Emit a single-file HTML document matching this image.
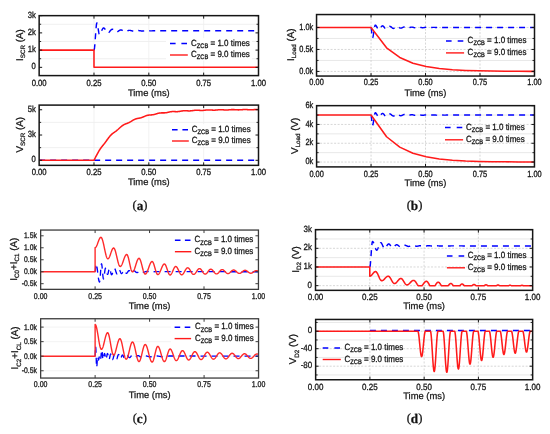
<!DOCTYPE html>
<html><head><meta charset="utf-8"><title>Figure</title><style>html,body{margin:0;padding:0;background:#fff;}svg{display:block;}</style></head><body>
<svg width="550" height="434" viewBox="0 0 550 434" font-family='"Liberation Sans", Arial, sans-serif' fill="#161616"><style>text{stroke:#161616;stroke-width:0.25px;text-rendering:geometricPrecision}</style>
<rect width="550" height="434" fill="#fff"/>
<line x1="39.15" y1="58.72" x2="258.5" y2="58.72" stroke="#ececec" stroke-width="0.8"/>
<line x1="39.15" y1="41.49" x2="258.5" y2="41.49" stroke="#ececec" stroke-width="0.8"/>
<line x1="39.15" y1="24.26" x2="258.5" y2="24.26" stroke="#ececec" stroke-width="0.8"/>
<line x1="93.99" y1="15.65" x2="93.99" y2="75.6" stroke="#efefef" stroke-width="0.8"/>
<line x1="148.82" y1="15.65" x2="148.82" y2="75.6" stroke="#efefef" stroke-width="0.8"/>
<line x1="203.66" y1="15.65" x2="203.66" y2="75.6" stroke="#efefef" stroke-width="0.8"/>
<g>
<path d="M93.99 50.1 L94.25 49.55 L94.52 47.94 L94.78 45.41 L95.05 42.15 L95.31 38.44 L95.58 34.57 L95.84 30.85 L96.11 27.59 L96.37 25.06 L96.64 23.45 L96.9 22.9 L97.16 23.19 L97.42 24.02 L97.68 25.31 L97.94 26.94 L98.2 28.75 L98.46 30.56 L98.72 32.19 L98.98 33.48 L99.24 34.31 L99.5 34.6 L99.75 34.47 L100 34.22 L100.25 33.87 L100.5 33.44 L100.75 32.92 L101 32.36 L101.25 31.77 L101.5 31.16 L101.75 30.56 L102 30 L102.25 29.47 L102.5 29.02 L102.75 28.63 L103 28.33 L103.25 28.12 L103.5 28.01 L103.75 28 L104 28.07 L104.25 28.24 L104.5 28.48 L104.75 28.79 L105 29.16 L105.25 29.57 L105.5 30 L105.75 30.45 L106 30.89 L106.25 31.31 L106.5 31.7 L106.75 32.05 L107 32.34 L107.25 32.58 L107.5 32.74 L107.75 32.84 L108 32.87 L108.25 32.82 L108.5 32.71 L108.75 32.55 L109 32.33 L109.25 32.06 L109.5 31.77 L109.75 31.45 L110 31.13 L110.25 30.8 L110.5 30.49 L110.75 30.19 L111 29.93 L111.25 29.7 L111.5 29.52 L111.75 29.39 L112 29.31 L112.25 29.28 L112.5 29.3 L112.75 29.37 L113 29.49 L113.25 29.64 L113.5 29.83 L113.75 30.04 L114 30.27 L114.25 30.51 L114.5 30.75 L114.75 30.99 L115 31.21 L115.25 31.4 L115.5 31.58 L115.75 31.71 L116 31.82 L116.25 31.89 L116.5 31.92 L116.75 31.91 L117 31.86 L117.25 31.78 L117.5 31.68 L117.75 31.54 L118 31.39 L118.25 31.22 L118.5 31.05 L118.75 30.87 L119 30.7 L119.25 30.53 L119.5 30.38 L119.75 30.25 L120 30.15 L120.25 30.06 L120.5 30.01 L120.75 29.98 L121 29.98 L121.25 30.01 L121.5 30.06 L121.75 30.14 L122 30.23 L122.25 30.34 L122.5 30.46 L122.75 30.59 L123 30.72 L123.25 30.85 L123.5 30.97 L123.75 31.09 L124 31.18 L124.25 31.27 L124.5 31.33 L124.75 31.38 L125 31.4 L125.25 31.4 L125.5 31.39 L125.75 31.35 L126 31.3 L126.25 31.23 L126.5 31.15 L126.75 31.07 L127 30.97 L127.25 30.88 L127.5 30.78 L127.75 30.69 L128 30.61 L128.25 30.53 L128.5 30.47 L128.75 30.42 L129 30.38 L129.25 30.36 L129.5 30.36 L129.75 30.36 L130 30.39 L130.25 30.42 L130.5 30.47 L130.75 30.53 L131 30.59 L131.25 30.66 L131.5 30.73 L131.75 30.8 L132 30.87 L132.25 30.93 L132.5 30.99 L132.75 31.04 L133 31.07 L133.25 31.1 L133.5 31.12 L133.75 31.13 L134 31.12 L134.25 31.11 L134.5 31.08 L134.75 31.05 L135 31.01 L135.25 30.96 L135.5 30.91 L135.75 30.86 L136 30.81 L136.25 30.76 L136.5 30.71 L136.75 30.67 L137 30.63 L137.25 30.6 L137.5 30.58 L137.75 30.57 L138 30.56 L138.25 30.56 L138.5 30.57 L138.75 30.59 L139 30.61 L139.25 30.64 L139.5 30.67 L139.75 30.71 L140 30.75 L140.25 30.78 L140.5 30.82 L140.75 30.86 L141 30.89 L141.25 30.92 L141.5 30.94 L141.75 30.96 L142 30.97 L142.25 30.98 L142.5 30.98 L142.75 30.97 L143 30.96 L143.25 30.94 L143.5 30.92 L143.75 30.9 L144 30.87 L144.25 30.84 L144.5 30.82 L144.75 30.79 L145 30.76 L145.25 30.74 L145.5 30.72 L145.75 30.7 L146 30.69 L146.25 30.68 L146.5 30.67 L146.75 30.67 L147 30.67 L147.25 30.68 L147.5 30.69 L147.75 30.71 L148 30.72 L148.25 30.74 L148.5 30.76 L148.75 30.78 L149 30.8 L149.25 30.82 L149.5 30.84 L149.75 30.86 L150 30.87 L150.25 30.88 L150.5 30.89 L150.75 30.89 L151 30.9 L151.25 30.89 L151.5 30.89 L151.75 30.88 L152 30.87 L152.25 30.86 L152.5 30.84 L152.75 30.83 L153 30.82 L153.25 30.8 L153.5 30.79 L153.75 30.77 L154 30.76 L154.25 30.75 L154.5 30.74 L154.75 30.73 L155 30.73 L155.25 30.73 L155.5 30.73 L155.75 30.73 L156 30.74 L156.25 30.75 L156.5 30.76 L156.75 30.76 L157 30.78 L157.25 30.79 L157.5 30.8 L157.75 30.81 L158 30.82 L158.25 30.83 L158.5 30.84 L158.75 30.84 L159 30.85 L159.25 30.85 L159.5 30.85 L159.75 30.85 L160 30.85 L160.25 30.85 L160.5 30.84 L160.75 30.83 L161 30.83 L161.25 30.82 L161.5 30.81 L161.75 30.8 L162 30.8 L162.25 30.79 L162.5 30.78 L162.75 30.77 L163 30.77 L163.25 30.77 L163.5 30.76 L163.75 30.76 L164 30.76 L164.25 30.76 L164.5 30.77 L164.75 30.77 L165 30.77 L165.25 30.78 L165.5 30.78 L165.75 30.79 L166 30.8 L166.25 30.8 L166.5 30.81 L166.75 30.81 L167 30.82 L167.25 30.82 L167.5 30.82 L167.75 30.83 L168 30.83 L168.25 30.83 L168.5 30.83 L168.75 30.83 L169 30.82 L169.25 30.82 L169.5 30.82 L169.75 30.81 L170 30.81 L170.25 30.8 L170.5 30.8 L170.75 30.79 L171 30.79 L171.25 30.79 L171.5 30.78 L171.75 30.78 L172 30.78 L172.25 30.78 L172.5 30.78 L172.75 30.78 L173 30.78 L173.25 30.78 L173.5 30.78 L173.75 30.79 L174 30.79 L174.25 30.79 L174.5 30.8 L174.75 30.8 L175 30.8 L175.25 30.81 L175.5 30.81 L175.75 30.81 L176 30.81 L176.25 30.81 L176.5 30.81 L176.75 30.82 L177 30.81 L177.25 30.81 L177.5 30.81 L177.75 30.81 L178 30.81 L178.25 30.81 L178.5 30.81 L178.75 30.8 L179 30.8 L179.25 30.8 L179.5 30.8 L179.75 30.79 L180 30.79 L180.25 30.79 L180.5 30.79 L180.75 30.79 L181 30.79 L181.25 30.79 L181.5 30.79 L181.75 30.79 L182 30.79 L182.25 30.79 L182.5 30.79 L182.75 30.8 L183 30.8 L183.25 30.8 L183.5 30.8 L183.75 30.8 L184 30.8 L184.25 30.81 L184.5 30.81 L184.75 30.81 L185 30.81 L185.25 30.81 L185.5 30.81 L185.75 30.81 L186 30.81 L186.25 30.81 L186.5 30.81 L186.75 30.8 L187 30.8 L187.25 30.8 L187.5 30.8 L187.75 30.8 L188 30.8 L188.25 30.8 L188.5 30.8 L188.75 30.8 L189 30.79 L189.25 30.79 L189.5 30.79 L189.75 30.79 L190 30.79 L190.25 30.79 L190.5 30.8 L190.75 30.8 L191 30.8 L191.25 30.8 L191.5 30.8 L191.75 30.8 L192 30.8 L192.25 30.8 L192.5 30.8 L192.75 30.8 L193 30.8 L193.25 30.8 L193.5 30.8 L193.75 30.8 L194 30.8 L194.25 30.8 L194.5 30.8 L194.75 30.8 L195 30.8 L195.25 30.8 L195.5 30.8 L195.75 30.8 L196 30.8 L196.25 30.8 L196.5 30.8 L196.75 30.8 L197 30.8 L197.25 30.8 L197.5 30.8 L197.75 30.8 L198 30.8 L198.25 30.8 L198.5 30.8 L198.75 30.8 L199 30.8 L199.25 30.8 L199.5 30.8 L199.75 30.8 L200 30.8 L200.25 30.8 L200.5 30.8 L200.75 30.8 L201 30.8 L201.25 30.8 L201.5 30.8 L201.75 30.8 L202 30.8 L202.25 30.8 L202.5 30.8 L202.75 30.8 L203 30.8 L203.25 30.8 L203.5 30.8 L203.75 30.8 L204 30.8 L204.25 30.8 L204.5 30.8 L204.75 30.8 L205 30.8 L205.25 30.8 L205.5 30.8 L205.75 30.8 L206 30.8 L206.25 30.8 L206.5 30.8 L206.75 30.8 L207 30.8 L207.25 30.8 L207.5 30.8 L207.75 30.8 L208 30.8 L208.25 30.8 L208.5 30.8 L208.75 30.8 L209 30.8 L209.25 30.8 L209.5 30.8 L209.75 30.8 L210 30.8 L210.25 30.8 L210.5 30.8 L210.75 30.8 L211 30.8 L211.25 30.8 L211.5 30.8 L211.75 30.8 L212 30.8 L212.25 30.8 L212.5 30.8 L212.75 30.8 L213 30.8 L213.25 30.8 L213.5 30.8 L213.75 30.8 L214 30.8 L214.25 30.8 L214.5 30.8 L214.75 30.8 L215 30.8 L215.25 30.8 L215.5 30.8 L215.75 30.8 L216 30.8 L216.25 30.8 L216.5 30.8 L216.75 30.8 L217 30.8 L217.25 30.8 L217.5 30.8 L217.75 30.8 L218 30.8 L218.25 30.8 L218.5 30.8 L218.75 30.8 L219 30.8 L219.25 30.8 L219.5 30.8 L219.75 30.8 L220 30.8 L220.25 30.8 L220.5 30.8 L220.75 30.8 L221 30.8 L221.25 30.8 L221.5 30.8 L221.75 30.8 L222 30.8 L222.25 30.8 L222.5 30.8 L222.75 30.8 L223 30.8 L223.25 30.8 L223.5 30.8 L223.75 30.8 L224 30.8 L224.25 30.8 L224.5 30.8 L224.75 30.8 L225 30.8 L225.25 30.8 L225.5 30.8 L225.75 30.8 L226 30.8 L226.25 30.8 L226.5 30.8 L226.75 30.8 L227 30.8 L227.25 30.8 L227.5 30.8 L227.75 30.8 L228 30.8 L228.25 30.8 L228.5 30.8 L228.75 30.8 L229 30.8 L229.25 30.8 L229.5 30.8 L229.75 30.8 L230 30.8 L230.25 30.8 L230.5 30.8 L230.75 30.8 L231 30.8 L231.25 30.8 L231.5 30.8 L231.75 30.8 L232 30.8 L232.25 30.8 L232.5 30.8 L232.75 30.8 L233 30.8 L233.25 30.8 L233.5 30.8 L233.75 30.8 L234 30.8 L234.25 30.8 L234.5 30.8 L234.75 30.8 L235 30.8 L235.25 30.8 L235.5 30.8 L235.75 30.8 L236 30.8 L236.25 30.8 L236.5 30.8 L236.75 30.8 L237 30.8 L237.25 30.8 L237.5 30.8 L237.75 30.8 L238 30.8 L238.25 30.8 L238.5 30.8 L238.75 30.8 L239 30.8 L239.25 30.8 L239.5 30.8 L239.75 30.8 L240 30.8 L240.25 30.8 L240.5 30.8 L240.75 30.8 L241 30.8 L241.25 30.8 L241.5 30.8 L241.75 30.8 L242 30.8 L242.25 30.8 L242.5 30.8 L242.75 30.8 L243 30.8 L243.25 30.8 L243.5 30.8 L243.75 30.8 L244 30.8 L244.25 30.8 L244.5 30.8 L244.75 30.8 L245 30.8 L245.25 30.8 L245.5 30.8 L245.75 30.8 L246 30.8 L246.25 30.8 L246.5 30.8 L246.75 30.8 L247 30.8 L247.25 30.8 L247.5 30.8 L247.75 30.8 L248 30.8 L248.25 30.8 L248.5 30.8 L248.75 30.8 L249 30.8 L249.25 30.8 L249.5 30.8 L249.75 30.8 L250 30.8 L250.25 30.8 L250.5 30.8 L250.75 30.8 L251 30.8 L251.25 30.8 L251.5 30.8 L251.75 30.8 L252 30.8 L252.25 30.8 L252.5 30.8 L252.75 30.8 L253 30.8 L253.25 30.8 L253.5 30.8 L253.75 30.8 L254 30.8 L254.25 30.8 L254.5 30.8 L254.75 30.8 L255 30.8 L255.25 30.8 L255.5 30.8 L255.75 30.8 L256 30.8 L256.25 30.8 L256.5 30.8 L256.75 30.8 L257 30.8 L257.25 30.8 L257.5 30.8 L257.75 30.8 L258 30.8 L258.25 30.8 L258.5 30.8 L258.5 30.8" fill="none" stroke="#0000ff" stroke-width="1.45" stroke-dasharray="6 5" stroke-linejoin="round"/>
<path d="M39.15 50.1 L93.99 50.1 L93.99 67.33 L258.5 67.33" fill="none" stroke="#ff1a1a" stroke-width="1.55" stroke-linejoin="round"/>
</g>
<rect x="166" y="38.1" width="86" height="22.4" fill="#fff"/>
<path d="M170 43.6h5.6M181.4 43.6h5.6" stroke="#0000ff" stroke-width="1.5"/>
<line x1="170" y1="55" x2="187.8" y2="55" stroke="#ff1a1a" stroke-width="1.4"/>
<text transform="translate(191 45.7) scale(1 1.12)" font-size="8">C<tspan font-size="5.76" dy="2">ZCB</tspan><tspan dy="-2"> = 1.0 times</tspan></text>
<text transform="translate(191 57.1) scale(1 1.12)" font-size="8">C<tspan font-size="5.76" dy="2">ZCB</tspan><tspan dy="-2"> = 9.0 times</tspan></text>
<rect x="39.15" y="15.65" width="219.35" height="59.95" fill="none" stroke="#151515" stroke-width="1.5"/>
<path d="M39.15 67.33h3M258.5 67.33h-3" stroke="#151515" stroke-width="1"/>
<path d="M39.15 50.1h3M258.5 50.1h-3" stroke="#151515" stroke-width="1"/>
<path d="M39.15 32.88h3M258.5 32.88h-3" stroke="#151515" stroke-width="1"/>
<path d="M39.15 15.65h3M258.5 15.65h-3" stroke="#151515" stroke-width="1"/>
<path d="M39.15 58.72h2M258.5 58.72h-2" stroke="#151515" stroke-width="0.9"/>
<path d="M39.15 41.49h2M258.5 41.49h-2" stroke="#151515" stroke-width="0.9"/>
<path d="M39.15 24.26h2M258.5 24.26h-2" stroke="#151515" stroke-width="0.9"/>
<path d="M93.99 75.6v-3M93.99 15.65v3" stroke="#151515" stroke-width="1"/>
<path d="M148.82 75.6v-3M148.82 15.65v3" stroke="#151515" stroke-width="1"/>
<path d="M203.66 75.6v-3M203.66 15.65v3" stroke="#151515" stroke-width="1"/>
<text transform="translate(35.85 69.43) scale(1 1.16)" text-anchor="end" font-size="7.7">0</text>
<text transform="translate(35.85 52.2) scale(1 1.16)" text-anchor="end" font-size="7.7">1k</text>
<text transform="translate(35.85 34.98) scale(1 1.16)" text-anchor="end" font-size="7.7">2k</text>
<text transform="translate(35.85 17.75) scale(1 1.16)" text-anchor="end" font-size="7.7">3k</text>
<text transform="translate(39.15 85.55) scale(1 1.16)" text-anchor="middle" font-size="7.7">0.00</text>
<text transform="translate(93.99 85.55) scale(1 1.16)" text-anchor="middle" font-size="7.7">0.25</text>
<text transform="translate(148.82 85.55) scale(1 1.16)" text-anchor="middle" font-size="7.7">0.50</text>
<text transform="translate(203.66 85.55) scale(1 1.16)" text-anchor="middle" font-size="7.7">0.75</text>
<text transform="translate(258.5 85.55) scale(1 1.16)" text-anchor="middle" font-size="7.7">1.00</text>
<text x="148.82" y="96.4" text-anchor="middle" font-size="9.4">Time (ms)</text>
<text transform="translate(22.5 45.12) rotate(-90)" text-anchor="middle" font-size="9.8">I<tspan font-size="6.27" dy="2.2">SCR</tspan><tspan dy="-2.2"> (A)</tspan></text>
<line x1="39.15" y1="147.66" x2="258.5" y2="147.66" stroke="#ececec" stroke-width="0.8"/>
<line x1="39.15" y1="122.39" x2="258.5" y2="122.39" stroke="#ececec" stroke-width="0.8"/>
<line x1="93.99" y1="105.1" x2="93.99" y2="165.35" stroke="#efefef" stroke-width="0.8"/>
<line x1="148.82" y1="105.1" x2="148.82" y2="165.35" stroke="#efefef" stroke-width="0.8"/>
<line x1="203.66" y1="105.1" x2="203.66" y2="165.35" stroke="#efefef" stroke-width="0.8"/>
<g>
<path d="M39.15 160.3 L258.5 160.3" fill="none" stroke="#0000ff" stroke-width="1.45" stroke-dasharray="6 5" stroke-linejoin="round"/>
<path d="M39.15 160.3 L39.42 160.3 L39.7 160.3 L39.97 160.3 L40.25 160.3 L40.52 160.3 L40.8 160.3 L41.07 160.3 L41.35 160.3 L41.62 160.3 L41.9 160.3 L42.17 160.3 L42.44 160.3 L42.72 160.3 L42.99 160.3 L43.27 160.3 L43.54 160.3 L43.82 160.3 L44.09 160.3 L44.37 160.3 L44.64 160.3 L44.92 160.3 L45.19 160.3 L45.46 160.3 L45.74 160.3 L46.01 160.3 L46.29 160.3 L46.56 160.3 L46.84 160.3 L47.11 160.3 L47.39 160.3 L47.66 160.3 L47.93 160.3 L48.21 160.3 L48.48 160.3 L48.76 160.3 L49.03 160.3 L49.31 160.3 L49.58 160.3 L49.86 160.3 L50.13 160.3 L50.41 160.3 L50.68 160.3 L50.95 160.3 L51.23 160.3 L51.5 160.3 L51.78 160.3 L52.05 160.3 L52.33 160.3 L52.6 160.3 L52.88 160.3 L53.15 160.3 L53.43 160.3 L53.7 160.3 L53.97 160.3 L54.25 160.3 L54.52 160.3 L54.8 160.3 L55.07 160.3 L55.35 160.3 L55.62 160.3 L55.9 160.3 L56.17 160.3 L56.45 160.3 L56.72 160.3 L56.99 160.3 L57.27 160.3 L57.54 160.3 L57.82 160.3 L58.09 160.3 L58.37 160.3 L58.64 160.3 L58.92 160.3 L59.19 160.3 L59.47 160.3 L59.74 160.3 L60.01 160.3 L60.29 160.3 L60.56 160.3 L60.84 160.3 L61.11 160.3 L61.39 160.3 L61.66 160.3 L61.94 160.3 L62.21 160.3 L62.49 160.3 L62.76 160.3 L63.03 160.3 L63.31 160.3 L63.58 160.3 L63.86 160.3 L64.13 160.3 L64.41 160.3 L64.68 160.3 L64.96 160.3 L65.23 160.3 L65.5 160.3 L65.78 160.3 L66.05 160.3 L66.33 160.3 L66.6 160.3 L66.88 160.3 L67.15 160.3 L67.43 160.3 L67.7 160.3 L67.98 160.3 L68.25 160.3 L68.52 160.3 L68.8 160.3 L69.07 160.3 L69.35 160.3 L69.62 160.3 L69.9 160.3 L70.17 160.3 L70.45 160.3 L70.72 160.3 L71 160.3 L71.27 160.3 L71.54 160.3 L71.82 160.3 L72.09 160.3 L72.37 160.3 L72.64 160.3 L72.92 160.3 L73.19 160.3 L73.47 160.3 L73.74 160.3 L74.02 160.3 L74.29 160.3 L74.56 160.3 L74.84 160.3 L75.11 160.3 L75.39 160.3 L75.66 160.3 L75.94 160.3 L76.21 160.3 L76.49 160.3 L76.76 160.3 L77.04 160.3 L77.31 160.3 L77.58 160.3 L77.86 160.3 L78.13 160.3 L78.41 160.3 L78.68 160.3 L78.96 160.3 L79.23 160.3 L79.51 160.3 L79.78 160.3 L80.06 160.3 L80.33 160.3 L80.6 160.3 L80.88 160.3 L81.15 160.3 L81.43 160.3 L81.7 160.3 L81.98 160.3 L82.25 160.3 L82.53 160.3 L82.8 160.3 L83.07 160.3 L83.35 160.3 L83.62 160.3 L83.9 160.3 L84.17 160.3 L84.45 160.3 L84.72 160.3 L85 160.3 L85.27 160.3 L85.55 160.3 L85.82 160.3 L86.09 160.3 L86.37 160.3 L86.64 160.3 L86.92 160.3 L87.19 160.3 L87.47 160.3 L87.74 160.3 L88.02 160.3 L88.29 160.3 L88.57 160.3 L88.84 160.3 L89.11 160.3 L89.39 160.3 L89.66 160.3 L89.94 160.3 L90.21 160.3 L90.49 160.3 L90.76 160.3 L91.04 160.3 L91.31 160.3 L91.59 160.3 L91.86 160.3 L92.13 160.3 L92.41 160.3 L92.68 160.3 L92.96 160.3 L93.23 160.3 L93.51 160.3 L93.78 160.3 L94.06 160.16 L94.33 159.62 L94.61 159.08 L94.88 158.55 L95.15 158.02 L95.43 157.49 L95.7 156.96 L95.98 156.43 L96.25 155.9 L96.53 155.38 L96.8 154.86 L97.08 154.34 L97.35 153.83 L97.63 153.33 L97.9 152.83 L98.17 152.33 L98.45 151.85 L98.72 151.37 L99 150.91 L99.27 150.45 L99.55 150.01 L99.82 149.57 L100.1 149.15 L100.37 148.74 L100.64 148.35 L100.92 147.96 L101.19 147.58 L101.47 147.22 L101.74 146.86 L102.02 146.51 L102.29 146.17 L102.57 145.83 L102.84 145.5 L103.12 145.16 L103.39 144.82 L103.66 144.48 L103.94 144.13 L104.21 143.78 L104.49 143.43 L104.76 143.07 L105.04 142.71 L105.31 142.34 L105.59 141.97 L105.86 141.6 L106.14 141.22 L106.41 140.84 L106.68 140.46 L106.96 140.08 L107.23 139.69 L107.51 139.31 L107.78 138.93 L108.06 138.56 L108.33 138.18 L108.61 137.82 L108.88 137.46 L109.16 137.11 L109.43 136.77 L109.7 136.43 L109.98 136.11 L110.25 135.8 L110.53 135.5 L110.8 135.2 L111.08 134.92 L111.35 134.66 L111.63 134.4 L111.9 134.15 L112.18 133.91 L112.45 133.68 L112.72 133.46 L113 133.25 L113.27 133.04 L113.55 132.84 L113.82 132.64 L114.1 132.45 L114.37 132.25 L114.65 132.06 L114.92 131.87 L115.19 131.67 L115.47 131.48 L115.74 131.28 L116.02 131.08 L116.29 130.87 L116.57 130.66 L116.84 130.44 L117.12 130.22 L117.39 129.99 L117.67 129.75 L117.94 129.52 L118.21 129.27 L118.49 129.03 L118.76 128.78 L119.04 128.53 L119.31 128.28 L119.59 128.02 L119.86 127.77 L120.14 127.52 L120.41 127.28 L120.69 127.03 L120.96 126.79 L121.23 126.56 L121.51 126.34 L121.78 126.12 L122.06 125.91 L122.33 125.7 L122.61 125.51 L122.88 125.33 L123.16 125.15 L123.43 124.98 L123.71 124.83 L123.98 124.68 L124.25 124.54 L124.53 124.41 L124.8 124.28 L125.08 124.16 L125.35 124.05 L125.63 123.94 L125.9 123.83 L126.18 123.73 L126.45 123.62 L126.73 123.52 L127 123.42 L127.27 123.31 L127.55 123.2 L127.82 123.09 L128.1 122.97 L128.37 122.85 L128.65 122.73 L128.92 122.6 L129.2 122.46 L129.47 122.32 L129.75 122.18 L130.02 122.02 L130.29 121.87 L130.57 121.71 L130.84 121.54 L131.12 121.37 L131.39 121.21 L131.67 121.03 L131.94 120.86 L132.22 120.69 L132.49 120.53 L132.76 120.36 L133.04 120.2 L133.31 120.04 L133.59 119.89 L133.86 119.74 L134.14 119.6 L134.41 119.46 L134.69 119.34 L134.96 119.22 L135.24 119.11 L135.51 119 L135.78 118.91 L136.06 118.82 L136.33 118.74 L136.61 118.67 L136.88 118.6 L137.16 118.53 L137.43 118.48 L137.71 118.42 L137.98 118.37 L138.26 118.32 L138.53 118.27 L138.8 118.22 L139.08 118.17 L139.35 118.12 L139.63 118.06 L139.9 118.01 L140.18 117.95 L140.45 117.88 L140.73 117.81 L141 117.73 L141.28 117.65 L141.55 117.56 L141.82 117.47 L142.1 117.37 L142.37 117.27 L142.65 117.16 L142.92 117.05 L143.2 116.94 L143.47 116.82 L143.75 116.71 L144.02 116.59 L144.3 116.47 L144.57 116.35 L144.84 116.23 L145.12 116.12 L145.39 116.01 L145.67 115.9 L145.94 115.8 L146.22 115.7 L146.49 115.61 L146.77 115.52 L147.04 115.44 L147.32 115.37 L147.59 115.31 L147.86 115.25 L148.14 115.2 L148.41 115.15 L148.69 115.11 L148.96 115.08 L149.24 115.05 L149.51 115.02 L149.79 115 L150.06 114.98 L150.33 114.97 L150.61 114.95 L150.88 114.93 L151.16 114.91 L151.43 114.89 L151.71 114.87 L151.98 114.85 L152.26 114.82 L152.53 114.79 L152.81 114.75 L153.08 114.71 L153.35 114.66 L153.63 114.61 L153.9 114.55 L154.18 114.49 L154.45 114.42 L154.73 114.35 L155 114.27 L155.28 114.19 L155.55 114.11 L155.83 114.02 L156.1 113.94 L156.37 113.85 L156.65 113.76 L156.92 113.68 L157.2 113.6 L157.47 113.51 L157.75 113.44 L158.02 113.36 L158.3 113.29 L158.57 113.23 L158.85 113.17 L159.12 113.12 L159.39 113.07 L159.67 113.03 L159.94 112.99 L160.22 112.96 L160.49 112.94 L160.77 112.92 L161.04 112.9 L161.32 112.89 L161.59 112.89 L161.87 112.89 L162.14 112.88 L162.41 112.89 L162.69 112.89 L162.96 112.89 L163.24 112.89 L163.51 112.89 L163.79 112.89 L164.06 112.88 L164.34 112.87 L164.61 112.86 L164.89 112.85 L165.16 112.82 L165.43 112.8 L165.71 112.77 L165.98 112.73 L166.26 112.69 L166.53 112.65 L166.81 112.6 L167.08 112.54 L167.36 112.48 L167.63 112.42 L167.9 112.36 L168.18 112.3 L168.45 112.23 L168.73 112.17 L169 112.1 L169.28 112.04 L169.55 111.98 L169.83 111.92 L170.1 111.86 L170.38 111.81 L170.65 111.76 L170.92 111.72 L171.2 111.68 L171.47 111.65 L171.75 111.62 L172.02 111.6 L172.3 111.58 L172.57 111.57 L172.85 111.56 L173.12 111.56 L173.4 111.56 L173.67 111.57 L173.94 111.57 L174.22 111.58 L174.49 111.59 L174.77 111.61 L175.04 111.62 L175.32 111.63 L175.59 111.64 L175.87 111.65 L176.14 111.66 L176.42 111.66 L176.69 111.66 L176.96 111.66 L177.24 111.65 L177.51 111.64 L177.79 111.62 L178.06 111.6 L178.34 111.57 L178.61 111.54 L178.89 111.51 L179.16 111.47 L179.44 111.43 L179.71 111.38 L179.98 111.33 L180.26 111.28 L180.53 111.23 L180.81 111.18 L181.08 111.13 L181.36 111.08 L181.63 111.03 L181.91 110.99 L182.18 110.94 L182.46 110.9 L182.73 110.86 L183 110.83 L183.28 110.8 L183.55 110.78 L183.83 110.76 L184.1 110.74 L184.38 110.74 L184.65 110.73 L184.93 110.73 L185.2 110.73 L185.47 110.74 L185.75 110.75 L186.02 110.76 L186.3 110.78 L186.57 110.79 L186.85 110.81 L187.12 110.83 L187.4 110.85 L187.67 110.86 L187.95 110.88 L188.22 110.89 L188.49 110.9 L188.77 110.91 L189.04 110.91 L189.32 110.91 L189.59 110.91 L189.87 110.9 L190.14 110.89 L190.42 110.87 L190.69 110.85 L190.97 110.83 L191.24 110.8 L191.51 110.77 L191.79 110.73 L192.06 110.69 L192.34 110.66 L192.61 110.61 L192.89 110.57 L193.16 110.53 L193.44 110.49 L193.71 110.45 L193.99 110.41 L194.26 110.38 L194.53 110.34 L194.81 110.31 L195.08 110.29 L195.36 110.27 L195.63 110.25 L195.91 110.23 L196.18 110.22 L196.46 110.22 L196.73 110.21 L197.01 110.22 L197.28 110.22 L197.55 110.23 L197.83 110.24 L198.1 110.26 L198.38 110.28 L198.65 110.3 L198.93 110.32 L199.2 110.34 L199.48 110.36 L199.75 110.38 L200.02 110.39 L200.3 110.41 L200.57 110.43 L200.85 110.44 L201.12 110.45 L201.4 110.45 L201.67 110.45 L201.95 110.45 L202.22 110.44 L202.5 110.43 L202.77 110.42 L203.04 110.4 L203.32 110.38 L203.59 110.35 L203.87 110.33 L204.14 110.3 L204.42 110.27 L204.69 110.23 L204.97 110.2 L205.24 110.16 L205.52 110.13 L205.79 110.1 L206.06 110.06 L206.34 110.03 L206.61 110.01 L206.89 109.98 L207.16 109.96 L207.44 109.94 L207.71 109.92 L207.99 109.91 L208.26 109.9 L208.54 109.9 L208.81 109.9 L209.08 109.9 L209.36 109.91 L209.63 109.92 L209.91 109.93 L210.18 109.95 L210.46 109.97 L210.73 109.99 L211.01 110.01 L211.28 110.03 L211.56 110.05 L211.83 110.07 L212.1 110.09 L212.38 110.11 L212.65 110.12 L212.93 110.14 L213.2 110.15 L213.48 110.16 L213.75 110.16 L214.03 110.16 L214.3 110.16 L214.58 110.15 L214.85 110.15 L215.12 110.13 L215.4 110.12 L215.67 110.1 L215.95 110.07 L216.22 110.05 L216.5 110.02 L216.77 110 L217.05 109.97 L217.32 109.94 L217.59 109.91 L217.87 109.88 L218.14 109.85 L218.42 109.83 L218.69 109.8 L218.97 109.78 L219.24 109.76 L219.52 109.74 L219.79 109.73 L220.07 109.72 L220.34 109.71 L220.61 109.71 L220.89 109.71 L221.16 109.71 L221.44 109.72 L221.71 109.73 L221.99 109.74 L222.26 109.76 L222.54 109.78 L222.81 109.8 L223.09 109.82 L223.36 109.84 L223.63 109.86 L223.91 109.88 L224.18 109.9 L224.46 109.92 L224.73 109.93 L225.01 109.95 L225.28 109.96 L225.56 109.97 L225.83 109.98 L226.11 109.98 L226.38 109.98 L226.65 109.98 L226.93 109.97 L227.2 109.96 L227.48 109.95 L227.75 109.93 L228.03 109.92 L228.3 109.9 L228.58 109.87 L228.85 109.85 L229.13 109.83 L229.4 109.8 L229.67 109.77 L229.95 109.75 L230.22 109.72 L230.5 109.7 L230.77 109.68 L231.05 109.66 L231.32 109.64 L231.6 109.63 L231.87 109.62 L232.15 109.61 L232.42 109.6 L232.69 109.6 L232.97 109.6 L233.24 109.6 L233.52 109.61 L233.79 109.62 L234.07 109.63 L234.34 109.64 L234.62 109.66 L234.89 109.68 L235.16 109.7 L235.44 109.72 L235.71 109.74 L235.99 109.76 L236.26 109.77 L236.54 109.79 L236.81 109.81 L237.09 109.82 L237.36 109.84 L237.64 109.85 L237.91 109.86 L238.18 109.86 L238.46 109.86 L238.73 109.86 L239.01 109.86 L239.28 109.85 L239.56 109.84 L239.83 109.83 L240.11 109.82 L240.38 109.8 L240.66 109.78 L240.93 109.76 L241.2 109.74 L241.48 109.72 L241.75 109.69 L242.03 109.67 L242.3 109.65 L242.58 109.63 L242.85 109.61 L243.13 109.59 L243.4 109.57 L243.68 109.56 L243.95 109.55 L244.22 109.54 L244.5 109.53 L244.77 109.53 L245.05 109.53 L245.32 109.53 L245.6 109.54 L245.87 109.55 L246.15 109.56 L246.42 109.57 L246.7 109.59 L246.97 109.6 L247.24 109.62 L247.52 109.64 L247.79 109.66 L248.07 109.68 L248.34 109.7 L248.62 109.71 L248.89 109.73 L249.17 109.74 L249.44 109.76 L249.72 109.77 L249.99 109.78 L250.26 109.78 L250.54 109.79 L250.81 109.79 L251.09 109.79 L251.36 109.78 L251.64 109.77 L251.91 109.76 L252.19 109.75 L252.46 109.74 L252.73 109.72 L253.01 109.7 L253.28 109.68 L253.56 109.66 L253.83 109.64 L254.11 109.62 L254.38 109.61 L254.66 109.59 L254.93 109.57 L255.21 109.55 L255.48 109.54 L255.75 109.52 L256.03 109.51 L256.3 109.5 L256.58 109.5 L256.85 109.5 L257.13 109.5 L257.4 109.5 L257.68 109.5 L257.95 109.51 L258.23 109.52 L258.5 109.53" fill="none" stroke="#ff1a1a" stroke-width="1.55" stroke-linejoin="round"/>
</g>
<rect x="167" y="124.2" width="86" height="22.3" fill="#fff"/>
<path d="M172 129.7h5.6M182.4 129.7h5.6" stroke="#0000ff" stroke-width="1.5"/>
<line x1="172" y1="141" x2="188.8" y2="141" stroke="#ff1a1a" stroke-width="1.4"/>
<text transform="translate(191.8 131.8) scale(1 1.12)" font-size="8">C<tspan font-size="5.76" dy="2">ZCB</tspan><tspan dy="-2"> = 1.0 times</tspan></text>
<text transform="translate(191.8 143.1) scale(1 1.12)" font-size="8">C<tspan font-size="5.76" dy="2">ZCB</tspan><tspan dy="-2"> = 9.0 times</tspan></text>
<rect x="39.15" y="105.1" width="219.35" height="60.25" fill="none" stroke="#151515" stroke-width="1.5"/>
<path d="M39.15 160.3h3M258.5 160.3h-3" stroke="#151515" stroke-width="1"/>
<path d="M39.15 135.02h3M258.5 135.02h-3" stroke="#151515" stroke-width="1"/>
<path d="M39.15 109.75h3M258.5 109.75h-3" stroke="#151515" stroke-width="1"/>
<path d="M39.15 147.66h2M258.5 147.66h-2" stroke="#151515" stroke-width="0.9"/>
<path d="M39.15 122.39h2M258.5 122.39h-2" stroke="#151515" stroke-width="0.9"/>
<path d="M93.99 165.35v-3M93.99 105.1v3" stroke="#151515" stroke-width="1"/>
<path d="M148.82 165.35v-3M148.82 105.1v3" stroke="#151515" stroke-width="1"/>
<path d="M203.66 165.35v-3M203.66 105.1v3" stroke="#151515" stroke-width="1"/>
<text transform="translate(35.85 162.4) scale(1 1.16)" text-anchor="end" font-size="7.7">0</text>
<text transform="translate(35.85 137.12) scale(1 1.16)" text-anchor="end" font-size="7.7">3k</text>
<text transform="translate(35.85 111.85) scale(1 1.16)" text-anchor="end" font-size="7.7">5k</text>
<text transform="translate(39.15 174.75) scale(1 1.16)" text-anchor="middle" font-size="7.7">0.00</text>
<text transform="translate(93.99 174.75) scale(1 1.16)" text-anchor="middle" font-size="7.7">0.25</text>
<text transform="translate(148.82 174.75) scale(1 1.16)" text-anchor="middle" font-size="7.7">0.50</text>
<text transform="translate(203.66 174.75) scale(1 1.16)" text-anchor="middle" font-size="7.7">0.75</text>
<text transform="translate(258.5 174.75) scale(1 1.16)" text-anchor="middle" font-size="7.7">1.00</text>
<text x="148.82" y="185.35" text-anchor="middle" font-size="9.4">Time (ms)</text>
<text transform="translate(23.2 134.72) rotate(-90)" text-anchor="middle" font-size="9.8">V<tspan font-size="6.27" dy="2.2">SCR</tspan><tspan dy="-2.2"> (A)</tspan></text>
<line x1="316.55" y1="60.44" x2="534.5" y2="60.44" stroke="#e2e2e2" stroke-width="0.8"/>
<line x1="316.55" y1="38.46" x2="534.5" y2="38.46" stroke="#e2e2e2" stroke-width="0.8"/>
<line x1="316.55" y1="71.43" x2="534.5" y2="71.43" stroke="#cdcdcd" stroke-width="0.8" stroke-dasharray="2 1.5"/>
<line x1="316.55" y1="49.45" x2="534.5" y2="49.45" stroke="#cdcdcd" stroke-width="0.8" stroke-dasharray="2 1.5"/>
<line x1="316.55" y1="27.47" x2="534.5" y2="27.47" stroke="#cdcdcd" stroke-width="0.8" stroke-dasharray="2 1.5"/>
<line x1="371.04" y1="14.55" x2="371.04" y2="76.05" stroke="#cdcdcd" stroke-width="0.8" stroke-dasharray="2 1.5"/>
<line x1="425.52" y1="14.55" x2="425.52" y2="76.05" stroke="#cdcdcd" stroke-width="0.8" stroke-dasharray="2 1.5"/>
<line x1="480.01" y1="14.55" x2="480.01" y2="76.05" stroke="#cdcdcd" stroke-width="0.8" stroke-dasharray="2 1.5"/>
<g>
<path d="M371.04 27.47 L371.31 28.48 L371.58 31.12 L371.86 34.38 L372.13 37.02 L372.4 38.02 L372.66 37.76 L372.93 37 L373.19 35.8 L373.45 34.25 L373.72 32.49 L373.98 30.66 L374.25 28.89 L374.51 27.35 L374.77 26.15 L375.04 25.39 L375.3 25.12 L375.55 25.21 L375.8 25.39 L376.05 25.67 L376.3 26.02 L376.55 26.43 L376.8 26.87 L377.05 27.34 L377.3 27.79 L377.55 28.23 L377.8 28.61 L378.05 28.94 L378.3 29.19 L378.55 29.35 L378.8 29.43 L379.05 29.42 L379.3 29.31 L379.55 29.13 L379.8 28.87 L380.05 28.56 L380.3 28.2 L380.55 27.82 L380.8 27.44 L381.05 27.06 L381.3 26.71 L381.55 26.41 L381.8 26.16 L382.05 25.98 L382.3 25.87 L382.55 25.84 L382.8 25.88 L383.05 26 L383.3 26.18 L383.55 26.41 L383.8 26.69 L384.05 26.99 L384.3 27.31 L384.55 27.63 L384.8 27.94 L385.05 28.21 L385.3 28.45 L385.55 28.63 L385.8 28.76 L386.05 28.83 L386.3 28.83 L386.55 28.77 L386.8 28.65 L387.05 28.48 L387.3 28.27 L387.55 28.03 L387.8 27.77 L388.05 27.5 L388.3 27.24 L388.55 26.99 L388.8 26.78 L389.05 26.59 L389.3 26.46 L389.55 26.37 L389.8 26.34 L390.05 26.36 L390.3 26.43 L390.55 26.55 L390.8 26.7 L391.05 26.89 L391.3 27.1 L391.55 27.32 L391.8 27.54 L392.05 27.76 L392.3 27.95 L392.55 28.12 L392.8 28.26 L393.05 28.35 L393.3 28.41 L393.55 28.42 L393.8 28.38 L394.05 28.31 L394.3 28.2 L394.55 28.06 L394.8 27.9 L395.05 27.72 L395.3 27.53 L395.55 27.35 L395.8 27.17 L396.05 27.02 L396.3 26.89 L396.55 26.79 L396.8 26.72 L397.05 26.69 L397.3 26.69 L397.55 26.74 L397.8 26.81 L398.05 26.91 L398.3 27.04 L398.55 27.18 L398.8 27.33 L399.05 27.49 L399.3 27.64 L399.55 27.78 L399.8 27.9 L400.05 28 L400.3 28.07 L400.55 28.12 L400.8 28.13 L401.05 28.11 L401.3 28.07 L401.55 28 L401.8 27.9 L402.05 27.79 L402.3 27.67 L402.55 27.54 L402.8 27.41 L403.05 27.29 L403.3 27.18 L403.55 27.08 L403.8 27.01 L404.05 26.96 L404.3 26.93 L404.55 26.93 L404.8 26.95 L405.05 27 L405.3 27.07 L405.55 27.15 L405.8 27.25 L406.05 27.36 L406.3 27.46 L406.55 27.57 L406.8 27.67 L407.05 27.75 L407.3 27.83 L407.55 27.88 L407.8 27.92 L408.05 27.93 L408.3 27.92 L408.55 27.89 L408.8 27.85 L409.05 27.78 L409.3 27.71 L409.55 27.63 L409.8 27.54 L410.05 27.45 L410.3 27.36 L410.55 27.28 L410.8 27.21 L411.05 27.16 L411.3 27.12 L411.55 27.1 L411.8 27.1 L412.05 27.11 L412.3 27.14 L412.55 27.18 L412.8 27.24 L413.05 27.31 L413.3 27.38 L413.55 27.45 L413.8 27.53 L414.05 27.6 L414.3 27.66 L414.55 27.71 L414.8 27.75 L415.05 27.78 L415.3 27.79 L415.55 27.79 L415.8 27.77 L416.05 27.74 L416.3 27.7 L416.55 27.65 L416.8 27.59 L417.05 27.53 L417.3 27.47 L417.55 27.41 L417.8 27.35 L418.05 27.3 L418.3 27.26 L418.55 27.23 L418.8 27.22 L419.05 27.21 L419.3 27.22 L419.55 27.24 L419.8 27.26 L420.05 27.3 L420.3 27.35 L420.55 27.4 L420.8 27.45 L421.05 27.5 L421.3 27.55 L421.55 27.59 L421.8 27.63 L422.05 27.66 L422.3 27.68 L422.55 27.69 L422.8 27.69 L423.05 27.68 L423.3 27.66 L423.55 27.64 L423.8 27.6 L424.05 27.56 L424.3 27.52 L424.55 27.48 L424.8 27.44 L425.05 27.4 L425.3 27.36 L425.55 27.33 L425.8 27.31 L426.05 27.3 L426.3 27.29 L426.55 27.29 L426.8 27.31 L427.05 27.32 L427.3 27.35 L427.55 27.38 L427.8 27.41 L428.05 27.45 L428.3 27.48 L428.55 27.52 L428.8 27.55 L429.05 27.58 L429.3 27.6 L429.55 27.62 L429.8 27.62 L430.05 27.63 L430.3 27.62 L430.55 27.61 L430.8 27.59 L431.05 27.57 L431.3 27.54 L431.55 27.51 L431.8 27.48 L432.05 27.45 L432.3 27.43 L432.55 27.4 L432.8 27.38 L433.05 27.36 L433.3 27.35 L433.55 27.35 L433.8 27.35 L434.05 27.36 L434.3 27.37 L434.55 27.38 L434.8 27.4 L435.05 27.43 L435.3 27.45 L435.55 27.48 L435.8 27.5 L436.05 27.52 L436.3 27.54 L436.55 27.56 L436.8 27.57 L437.05 27.58 L437.3 27.58 L437.55 27.58 L437.8 27.57 L438.05 27.56 L438.3 27.54 L438.55 27.53 L438.8 27.51 L439.05 27.48 L439.3 27.46 L439.55 27.44 L439.8 27.43 L440.05 27.41 L440.3 27.4 L440.55 27.39 L440.8 27.39 L441.05 27.39 L441.3 27.39 L441.55 27.4 L441.8 27.41 L442.05 27.42 L442.3 27.44 L442.55 27.46 L442.8 27.47 L443.05 27.49 L443.3 27.51 L443.55 27.52 L443.8 27.53 L444.05 27.54 L444.3 27.55 L444.55 27.55 L444.8 27.55 L445.05 27.54 L445.3 27.53 L445.55 27.52 L445.8 27.51 L446.05 27.5 L446.3 27.48 L446.55 27.47 L446.8 27.46 L447.05 27.44 L447.3 27.43 L447.55 27.42 L447.8 27.42 L448.05 27.41 L448.3 27.41 L448.55 27.42 L448.8 27.42 L449.05 27.43 L449.3 27.44 L449.55 27.45 L449.8 27.46 L450.05 27.47 L450.3 27.48 L450.55 27.49 L450.8 27.5 L451.05 27.51 L451.3 27.52 L451.55 27.52 L451.8 27.53 L452.05 27.52 L452.3 27.52 L452.55 27.52 L452.8 27.51 L453.05 27.5 L453.3 27.49 L453.55 27.48 L453.8 27.47 L454.05 27.46 L454.3 27.45 L454.55 27.45 L454.8 27.44 L455.05 27.44 L455.3 27.43 L455.55 27.43 L455.8 27.43 L456.05 27.44 L456.3 27.44 L456.55 27.45 L456.8 27.45 L457.05 27.46 L457.3 27.47 L457.55 27.48 L457.8 27.49 L458.05 27.49 L458.3 27.5 L458.55 27.5 L458.8 27.51 L459.05 27.51 L459.3 27.51 L459.55 27.51 L459.8 27.5 L460.05 27.5 L460.3 27.49 L460.55 27.49 L460.8 27.48 L461.05 27.47 L461.3 27.47 L461.55 27.46 L461.8 27.46 L462.05 27.45 L462.3 27.45 L462.55 27.45 L462.8 27.44 L463.05 27.45 L463.3 27.45 L463.55 27.45 L463.8 27.45 L464.05 27.46 L464.3 27.46 L464.55 27.47 L464.8 27.48 L465.05 27.48 L465.3 27.49 L465.55 27.49 L465.8 27.49 L466.05 27.5 L466.3 27.5 L466.55 27.5 L466.8 27.5 L467.05 27.5 L467.3 27.49 L467.55 27.49 L467.8 27.49 L468.05 27.48 L468.3 27.48 L468.55 27.47 L468.8 27.47 L469.05 27.46 L469.3 27.46 L469.55 27.46 L469.8 27.45 L470.05 27.45 L470.3 27.45 L470.55 27.46 L470.8 27.46 L471.05 27.46 L471.3 27.46 L471.55 27.47 L471.8 27.47 L472.05 27.47 L472.3 27.48 L472.55 27.48 L472.8 27.49 L473.05 27.49 L473.3 27.49 L473.55 27.49 L473.8 27.49 L474.05 27.49 L474.3 27.49 L474.55 27.49 L474.8 27.49 L475.05 27.48 L475.3 27.48 L475.55 27.48 L475.8 27.47 L476.05 27.47 L476.3 27.47 L476.55 27.46 L476.8 27.46 L477.05 27.46 L477.3 27.46 L477.55 27.46 L477.8 27.46 L478.05 27.46 L478.3 27.46 L478.55 27.47 L478.8 27.47 L479.05 27.47 L479.3 27.47 L479.55 27.48 L479.8 27.48 L480.05 27.48 L480.3 27.48 L480.55 27.48 L480.8 27.49 L481.05 27.49 L481.3 27.49 L481.55 27.49 L481.8 27.48 L482.05 27.48 L482.3 27.48 L482.55 27.48 L482.8 27.48 L483.05 27.47 L483.3 27.47 L483.55 27.47 L483.8 27.47 L484.05 27.47 L484.3 27.47 L484.55 27.46 L484.8 27.46 L485.05 27.46 L485.3 27.47 L485.55 27.47 L485.8 27.47 L486.05 27.47 L486.3 27.47 L486.55 27.47 L486.8 27.48 L487.05 27.48 L487.3 27.48 L487.55 27.48 L487.8 27.48 L488.05 27.48 L488.3 27.48 L488.55 27.48 L488.8 27.48 L489.05 27.48 L489.3 27.48 L489.55 27.48 L489.8 27.48 L490.05 27.48 L490.3 27.47 L490.55 27.47 L490.8 27.47 L491.05 27.47 L491.3 27.47 L491.55 27.47 L491.8 27.47 L492.05 27.47 L492.3 27.47 L492.55 27.47 L492.8 27.47 L493.05 27.47 L493.3 27.47 L493.55 27.47 L493.8 27.47 L494.05 27.47 L494.3 27.48 L494.55 27.48 L494.8 27.48 L495.05 27.48 L495.3 27.48 L495.55 27.48 L495.8 27.48 L496.05 27.48 L496.3 27.48 L496.55 27.48 L496.8 27.48 L497.05 27.48 L497.3 27.48 L497.55 27.47 L497.8 27.47 L498.05 27.47 L498.3 27.47 L498.55 27.47 L498.8 27.47 L499.05 27.47 L499.3 27.47 L499.55 27.47 L499.8 27.47 L500.05 27.47 L500.3 27.47 L500.55 27.47 L500.8 27.47 L501.05 27.47 L501.3 27.47 L501.55 27.48 L501.8 27.48 L502.05 27.48 L502.3 27.48 L502.55 27.48 L502.8 27.48 L503.05 27.48 L503.3 27.48 L503.55 27.48 L503.8 27.48 L504.05 27.48 L504.3 27.48 L504.55 27.48 L504.8 27.47 L505.05 27.47 L505.3 27.47 L505.55 27.47 L505.8 27.47 L506.05 27.47 L506.3 27.47 L506.55 27.47 L506.8 27.47 L507.05 27.47 L507.3 27.47 L507.55 27.47 L507.8 27.47 L508.05 27.47 L508.3 27.47 L508.55 27.47 L508.8 27.47 L509.05 27.48 L509.3 27.48 L509.55 27.48 L509.8 27.48 L510.05 27.48 L510.3 27.48 L510.55 27.48 L510.8 27.48 L511.05 27.48 L511.3 27.48 L511.55 27.48 L511.8 27.48 L512.05 27.47 L512.3 27.47 L512.55 27.47 L512.8 27.47 L513.05 27.47 L513.3 27.47 L513.55 27.47 L513.8 27.47 L514.05 27.47 L514.3 27.47 L514.55 27.47 L514.8 27.47 L515.05 27.47 L515.3 27.47 L515.55 27.47 L515.8 27.47 L516.05 27.47 L516.3 27.48 L516.55 27.48 L516.8 27.48 L517.05 27.48 L517.3 27.48 L517.55 27.48 L517.8 27.48 L518.05 27.48 L518.3 27.48 L518.55 27.48 L518.8 27.48 L519.05 27.47 L519.3 27.47 L519.55 27.47 L519.8 27.47 L520.05 27.47 L520.3 27.47 L520.55 27.47 L520.8 27.47 L521.05 27.47 L521.3 27.47 L521.55 27.47 L521.8 27.47 L522.05 27.47 L522.3 27.47 L522.55 27.47 L522.8 27.47 L523.05 27.47 L523.3 27.47 L523.55 27.47 L523.8 27.48 L524.05 27.48 L524.3 27.48 L524.55 27.48 L524.8 27.48 L525.05 27.48 L525.3 27.48 L525.55 27.48 L525.8 27.48 L526.05 27.47 L526.3 27.47 L526.55 27.47 L526.8 27.47 L527.05 27.47 L527.3 27.47 L527.55 27.47 L527.8 27.47 L528.05 27.47 L528.3 27.47 L528.55 27.47 L528.8 27.47 L529.05 27.47 L529.3 27.47 L529.55 27.47 L529.8 27.47 L530.05 27.47 L530.3 27.47 L530.55 27.47 L530.8 27.47 L531.05 27.47 L531.3 27.47 L531.55 27.48 L531.8 27.48 L532.05 27.48 L532.3 27.48 L532.55 27.48 L532.8 27.48 L533.05 27.47 L533.3 27.47 L533.55 27.47 L533.8 27.47 L534.05 27.47 L534.3 27.47 L534.5 27.47" fill="none" stroke="#0000ff" stroke-width="1.45" stroke-dasharray="6 5" stroke-linejoin="round"/>
<path d="M316.55 27.47 L371.04 27.47 L386.56 47.77 L399.74 57.45 L412.93 63.17 L426.11 66.55 L439.3 68.55 L452.49 69.73 L465.67 70.43 L478.86 70.84 L492.04 71.08 L505.23 71.23 L518.42 71.31 L531.6 71.36 L534.5 71.37" fill="none" stroke="#ff1a1a" stroke-width="1.55" stroke-linejoin="round"/>
</g>
<path d="M446 41.1h5.6M457.7 41.1h5.6" stroke="#0000ff" stroke-width="1.5"/>
<line x1="446" y1="52.9" x2="464.1" y2="52.9" stroke="#ff1a1a" stroke-width="1.4"/>
<text transform="translate(467.6 43.2) scale(1 1.12)" font-size="8">C<tspan font-size="5.76" dy="2">ZCB</tspan><tspan dy="-2"> = 1.0 times</tspan></text>
<text transform="translate(467.6 55) scale(1 1.12)" font-size="8">C<tspan font-size="5.76" dy="2">ZCB</tspan><tspan dy="-2"> = 9.0 times</tspan></text>
<rect x="316.55" y="14.55" width="217.95" height="61.5" fill="none" stroke="#151515" stroke-width="1.5"/>
<path d="M316.55 71.43h3M534.5 71.43h-3" stroke="#151515" stroke-width="1"/>
<path d="M316.55 49.45h3M534.5 49.45h-3" stroke="#151515" stroke-width="1"/>
<path d="M316.55 27.47h3M534.5 27.47h-3" stroke="#151515" stroke-width="1"/>
<path d="M316.55 60.44h2M534.5 60.44h-2" stroke="#151515" stroke-width="0.9"/>
<path d="M316.55 38.46h2M534.5 38.46h-2" stroke="#151515" stroke-width="0.9"/>
<path d="M371.04 76.05v-3M371.04 14.55v3" stroke="#151515" stroke-width="1"/>
<path d="M425.52 76.05v-3M425.52 14.55v3" stroke="#151515" stroke-width="1"/>
<path d="M480.01 76.05v-3M480.01 14.55v3" stroke="#151515" stroke-width="1"/>
<text transform="translate(313.25 73.53) scale(1 1.21)" text-anchor="end" font-size="7.4">0.0k</text>
<text transform="translate(313.25 51.55) scale(1 1.21)" text-anchor="end" font-size="7.4">0.5k</text>
<text transform="translate(313.25 29.57) scale(1 1.21)" text-anchor="end" font-size="7.4">1.0k</text>
<text transform="translate(316.55 85) scale(1 1.21)" text-anchor="middle" font-size="7.4">0.00</text>
<text transform="translate(371.04 85) scale(1 1.21)" text-anchor="middle" font-size="7.4">0.25</text>
<text transform="translate(425.52 85) scale(1 1.21)" text-anchor="middle" font-size="7.4">0.50</text>
<text transform="translate(480.01 85) scale(1 1.21)" text-anchor="middle" font-size="7.4">0.75</text>
<text transform="translate(534.5 85) scale(1 1.21)" text-anchor="middle" font-size="7.4">1.00</text>
<text x="425.52" y="96.35" text-anchor="middle" font-size="9.4">Time (ms)</text>
<text transform="translate(293.5 44.8) rotate(-90)" text-anchor="middle" font-size="9.8">I<tspan font-size="6.27" dy="2.2">Load</tspan><tspan dy="-2.2"> (A)</tspan></text>
<line x1="316.6" y1="152.65" x2="534.45" y2="152.65" stroke="#e2e2e2" stroke-width="0.8"/>
<line x1="316.6" y1="133.85" x2="534.45" y2="133.85" stroke="#e2e2e2" stroke-width="0.8"/>
<line x1="316.6" y1="115.05" x2="534.45" y2="115.05" stroke="#e2e2e2" stroke-width="0.8"/>
<line x1="316.6" y1="162.05" x2="534.45" y2="162.05" stroke="#cdcdcd" stroke-width="0.8" stroke-dasharray="2 1.5"/>
<line x1="316.6" y1="143.25" x2="534.45" y2="143.25" stroke="#cdcdcd" stroke-width="0.8" stroke-dasharray="2 1.5"/>
<line x1="316.6" y1="124.45" x2="534.45" y2="124.45" stroke="#cdcdcd" stroke-width="0.8" stroke-dasharray="2 1.5"/>
<line x1="371.06" y1="105.65" x2="371.06" y2="166.9" stroke="#cdcdcd" stroke-width="0.8" stroke-dasharray="2 1.5"/>
<line x1="425.53" y1="105.65" x2="425.53" y2="166.9" stroke="#cdcdcd" stroke-width="0.8" stroke-dasharray="2 1.5"/>
<line x1="479.99" y1="105.65" x2="479.99" y2="166.9" stroke="#cdcdcd" stroke-width="0.8" stroke-dasharray="2 1.5"/>
<g>
<path d="M371.06 115.05 L371.33 116.06 L371.6 118.69 L371.87 121.96 L372.13 124.59 L372.4 125.6 L372.66 125.34 L372.93 124.58 L373.19 123.37 L373.45 121.83 L373.72 120.07 L373.98 118.23 L374.25 116.47 L374.51 114.93 L374.77 113.72 L375.04 112.96 L375.3 112.7 L375.55 112.78 L375.8 112.97 L376.05 113.24 L376.3 113.59 L376.55 114 L376.8 114.45 L377.05 114.91 L377.3 115.37 L377.55 115.8 L377.8 116.19 L378.05 116.51 L378.3 116.76 L378.55 116.93 L378.8 117.01 L379.05 116.99 L379.3 116.89 L379.55 116.7 L379.8 116.45 L380.05 116.13 L380.3 115.78 L380.55 115.4 L380.8 115.01 L381.05 114.64 L381.3 114.29 L381.55 113.99 L381.8 113.74 L382.05 113.56 L382.3 113.45 L382.55 113.42 L382.8 113.46 L383.05 113.57 L383.3 113.75 L383.55 113.99 L383.8 114.26 L384.05 114.57 L384.3 114.89 L384.55 115.21 L384.8 115.51 L385.05 115.79 L385.3 116.02 L385.55 116.21 L385.8 116.34 L386.05 116.4 L386.3 116.4 L386.55 116.34 L386.8 116.23 L387.05 116.06 L387.3 115.85 L387.55 115.61 L387.8 115.34 L388.05 115.08 L388.3 114.81 L388.55 114.57 L388.8 114.35 L389.05 114.17 L389.3 114.04 L389.55 113.95 L389.8 113.92 L390.05 113.94 L390.3 114.01 L390.55 114.12 L390.8 114.28 L391.05 114.46 L391.3 114.67 L391.55 114.89 L391.8 115.12 L392.05 115.33 L392.3 115.53 L392.55 115.7 L392.8 115.83 L393.05 115.93 L393.3 115.98 L393.55 115.99 L393.8 115.96 L394.05 115.89 L394.3 115.78 L394.55 115.64 L394.8 115.47 L395.05 115.29 L395.3 115.11 L395.55 114.92 L395.8 114.75 L396.05 114.59 L396.3 114.46 L396.55 114.36 L396.8 114.29 L397.05 114.26 L397.3 114.27 L397.55 114.31 L397.8 114.39 L398.05 114.49 L398.3 114.62 L398.55 114.76 L398.8 114.91 L399.05 115.07 L399.3 115.22 L399.55 115.36 L399.8 115.48 L400.05 115.58 L400.3 115.65 L400.55 115.69 L400.8 115.71 L401.05 115.69 L401.3 115.64 L401.55 115.57 L401.8 115.48 L402.05 115.37 L402.3 115.24 L402.55 115.11 L402.8 114.99 L403.05 114.86 L403.3 114.75 L403.55 114.66 L403.8 114.58 L404.05 114.53 L404.3 114.51 L404.55 114.51 L404.8 114.53 L405.05 114.58 L405.3 114.65 L405.55 114.73 L405.8 114.83 L406.05 114.93 L406.3 115.04 L406.55 115.14 L406.8 115.24 L407.05 115.33 L407.3 115.4 L407.55 115.46 L407.8 115.49 L408.05 115.51 L408.3 115.5 L408.55 115.47 L408.8 115.42 L409.05 115.36 L409.3 115.29 L409.55 115.2 L409.8 115.11 L410.05 115.02 L410.3 114.94 L410.55 114.86 L410.8 114.79 L411.05 114.74 L411.3 114.7 L411.55 114.68 L411.8 114.67 L412.05 114.68 L412.3 114.71 L412.55 114.76 L412.8 114.82 L413.05 114.88 L413.3 114.95 L413.55 115.03 L413.8 115.1 L414.05 115.17 L414.3 115.23 L414.55 115.29 L414.8 115.33 L415.05 115.35 L415.3 115.37 L415.55 115.36 L415.8 115.35 L416.05 115.32 L416.3 115.28 L416.55 115.22 L416.8 115.17 L417.05 115.11 L417.3 115.04 L417.55 114.98 L417.8 114.93 L418.05 114.88 L418.3 114.84 L418.55 114.81 L418.8 114.79 L419.05 114.79 L419.3 114.79 L419.55 114.81 L419.8 114.84 L420.05 114.88 L420.3 114.92 L420.55 114.97 L420.8 115.02 L421.05 115.08 L421.3 115.12 L421.55 115.17 L421.8 115.21 L422.05 115.24 L422.3 115.26 L422.55 115.27 L422.8 115.27 L423.05 115.26 L423.3 115.24 L423.55 115.21 L423.8 115.18 L424.05 115.14 L424.3 115.1 L424.55 115.05 L424.8 115.01 L425.05 114.97 L425.3 114.94 L425.55 114.91 L425.8 114.89 L426.05 114.87 L426.3 114.87 L426.55 114.87 L426.8 114.88 L427.05 114.9 L427.3 114.93 L427.55 114.96 L427.8 114.99 L428.05 115.02 L428.3 115.06 L428.55 115.1 L428.8 115.13 L429.05 115.15 L429.3 115.18 L429.55 115.19 L429.8 115.2 L430.05 115.2 L430.3 115.2 L430.55 115.18 L430.8 115.17 L431.05 115.14 L431.3 115.12 L431.55 115.09 L431.8 115.06 L432.05 115.03 L432.3 115 L432.55 114.98 L432.8 114.96 L433.05 114.94 L433.3 114.93 L433.55 114.92 L433.8 114.92 L434.05 114.93 L434.3 114.94 L434.55 114.96 L434.8 114.98 L435.05 115 L435.3 115.03 L435.55 115.05 L435.8 115.08 L436.05 115.1 L436.3 115.12 L436.55 115.13 L436.8 115.15 L437.05 115.15 L437.3 115.16 L437.55 115.15 L437.8 115.15 L438.05 115.13 L438.3 115.12 L438.55 115.1 L438.8 115.08 L439.05 115.06 L439.3 115.04 L439.55 115.02 L439.8 115 L440.05 114.99 L440.3 114.97 L440.55 114.97 L440.8 114.96 L441.05 114.96 L441.3 114.97 L441.55 114.97 L441.8 114.98 L442.05 115 L442.3 115.01 L442.55 115.03 L442.8 115.05 L443.05 115.07 L443.3 115.08 L443.55 115.1 L443.8 115.11 L444.05 115.12 L444.3 115.12 L444.55 115.12 L444.8 115.12 L445.05 115.12 L445.3 115.11 L445.55 115.1 L445.8 115.09 L446.05 115.07 L446.3 115.06 L446.55 115.05 L446.8 115.03 L447.05 115.02 L447.3 115.01 L447.55 115 L447.8 114.99 L448.05 114.99 L448.3 114.99 L448.55 114.99 L448.8 115 L449.05 115 L449.3 115.01 L449.55 115.02 L449.8 115.03 L450.05 115.05 L450.3 115.06 L450.55 115.07 L450.8 115.08 L451.05 115.09 L451.3 115.09 L451.55 115.1 L451.8 115.1 L452.05 115.1 L452.3 115.1 L452.55 115.09 L452.8 115.09 L453.05 115.08 L453.3 115.07 L453.55 115.06 L453.8 115.05 L454.05 115.04 L454.3 115.03 L454.55 115.02 L454.8 115.02 L455.05 115.01 L455.3 115.01 L455.55 115.01 L455.8 115.01 L456.05 115.01 L456.3 115.02 L456.55 115.02 L456.8 115.03 L457.05 115.04 L457.3 115.05 L457.55 115.05 L457.8 115.06 L458.05 115.07 L458.3 115.08 L458.55 115.08 L458.8 115.08 L459.05 115.09 L459.3 115.09 L459.55 115.08 L459.8 115.08 L460.05 115.08 L460.3 115.07 L460.55 115.06 L460.8 115.06 L461.05 115.05 L461.3 115.04 L461.55 115.04 L461.8 115.03 L462.05 115.03 L462.3 115.02 L462.55 115.02 L462.8 115.02 L463.05 115.02 L463.3 115.02 L463.55 115.03 L463.8 115.03 L464.05 115.03 L464.3 115.04 L464.55 115.05 L464.8 115.05 L465.05 115.06 L465.3 115.06 L465.55 115.07 L465.8 115.07 L466.05 115.07 L466.3 115.07 L466.55 115.07 L466.8 115.07 L467.05 115.07 L467.3 115.07 L467.55 115.07 L467.8 115.06 L468.05 115.06 L468.3 115.05 L468.55 115.05 L468.8 115.04 L469.05 115.04 L469.3 115.03 L469.55 115.03 L469.8 115.03 L470.05 115.03 L470.3 115.03 L470.55 115.03 L470.8 115.03 L471.05 115.04 L471.3 115.04 L471.55 115.04 L471.8 115.05 L472.05 115.05 L472.3 115.05 L472.55 115.06 L472.8 115.06 L473.05 115.06 L473.3 115.07 L473.55 115.07 L473.8 115.07 L474.05 115.07 L474.3 115.07 L474.55 115.06 L474.8 115.06 L475.05 115.06 L475.3 115.05 L475.55 115.05 L475.8 115.05 L476.05 115.05 L476.3 115.04 L476.55 115.04 L476.8 115.04 L477.05 115.04 L477.3 115.04 L477.55 115.04 L477.8 115.04 L478.05 115.04 L478.3 115.04 L478.55 115.04 L478.8 115.04 L479.05 115.05 L479.3 115.05 L479.55 115.05 L479.8 115.05 L480.05 115.06 L480.3 115.06 L480.55 115.06 L480.8 115.06 L481.05 115.06 L481.3 115.06 L481.55 115.06 L481.8 115.06 L482.05 115.06 L482.3 115.06 L482.55 115.05 L482.8 115.05 L483.05 115.05 L483.3 115.05 L483.55 115.04 L483.8 115.04 L484.05 115.04 L484.3 115.04 L484.55 115.04 L484.8 115.04 L485.05 115.04 L485.3 115.04 L485.55 115.04 L485.8 115.04 L486.05 115.05 L486.3 115.05 L486.55 115.05 L486.8 115.05 L487.05 115.05 L487.3 115.05 L487.55 115.06 L487.8 115.06 L488.05 115.06 L488.3 115.06 L488.55 115.06 L488.8 115.06 L489.05 115.06 L489.3 115.06 L489.55 115.05 L489.8 115.05 L490.05 115.05 L490.3 115.05 L490.55 115.05 L490.8 115.05 L491.05 115.05 L491.3 115.04 L491.55 115.04 L491.8 115.04 L492.05 115.04 L492.3 115.04 L492.55 115.04 L492.8 115.04 L493.05 115.05 L493.3 115.05 L493.55 115.05 L493.8 115.05 L494.05 115.05 L494.3 115.05 L494.55 115.05 L494.8 115.05 L495.05 115.05 L495.3 115.06 L495.55 115.06 L495.8 115.06 L496.05 115.06 L496.3 115.05 L496.55 115.05 L496.8 115.05 L497.05 115.05 L497.3 115.05 L497.55 115.05 L497.8 115.05 L498.05 115.05 L498.3 115.05 L498.55 115.05 L498.8 115.05 L499.05 115.05 L499.3 115.05 L499.55 115.05 L499.8 115.05 L500.05 115.05 L500.3 115.05 L500.55 115.05 L500.8 115.05 L501.05 115.05 L501.3 115.05 L501.55 115.05 L501.8 115.05 L502.05 115.05 L502.3 115.05 L502.55 115.05 L502.8 115.05 L503.05 115.05 L503.3 115.05 L503.55 115.05 L503.8 115.05 L504.05 115.05 L504.3 115.05 L504.55 115.05 L504.8 115.05 L505.05 115.05 L505.3 115.05 L505.55 115.05 L505.8 115.05 L506.05 115.05 L506.3 115.05 L506.55 115.05 L506.8 115.05 L507.05 115.05 L507.3 115.05 L507.55 115.05 L507.8 115.05 L508.05 115.05 L508.3 115.05 L508.55 115.05 L508.8 115.05 L509.05 115.05 L509.3 115.05 L509.55 115.05 L509.8 115.05 L510.05 115.05 L510.3 115.05 L510.55 115.05 L510.8 115.05 L511.05 115.05 L511.3 115.05 L511.55 115.05 L511.8 115.05 L512.05 115.05 L512.3 115.05 L512.55 115.05 L512.8 115.05 L513.05 115.05 L513.3 115.05 L513.55 115.05 L513.8 115.05 L514.05 115.05 L514.3 115.05 L514.55 115.05 L514.8 115.05 L515.05 115.05 L515.3 115.05 L515.55 115.05 L515.8 115.05 L516.05 115.05 L516.3 115.05 L516.55 115.05 L516.8 115.05 L517.05 115.05 L517.3 115.05 L517.55 115.05 L517.8 115.05 L518.05 115.05 L518.3 115.05 L518.55 115.05 L518.8 115.05 L519.05 115.05 L519.3 115.05 L519.55 115.05 L519.8 115.05 L520.05 115.05 L520.3 115.05 L520.55 115.05 L520.8 115.05 L521.05 115.05 L521.3 115.05 L521.55 115.05 L521.8 115.05 L522.05 115.05 L522.3 115.05 L522.55 115.05 L522.8 115.05 L523.05 115.05 L523.3 115.05 L523.55 115.05 L523.8 115.05 L524.05 115.05 L524.3 115.05 L524.55 115.05 L524.8 115.05 L525.05 115.05 L525.3 115.05 L525.55 115.05 L525.8 115.05 L526.05 115.05 L526.3 115.05 L526.55 115.05 L526.8 115.05 L527.05 115.05 L527.3 115.05 L527.55 115.05 L527.8 115.05 L528.05 115.05 L528.3 115.05 L528.55 115.05 L528.8 115.05 L529.05 115.05 L529.3 115.05 L529.55 115.05 L529.8 115.05 L530.05 115.05 L530.3 115.05 L530.55 115.05 L530.8 115.05 L531.05 115.05 L531.3 115.05 L531.55 115.05 L531.8 115.05 L532.05 115.05 L532.3 115.05 L532.55 115.05 L532.8 115.05 L533.05 115.05 L533.3 115.05 L533.55 115.05 L533.8 115.05 L534.05 115.05 L534.3 115.05 L534.45 115.05" fill="none" stroke="#0000ff" stroke-width="1.45" stroke-dasharray="6 5" stroke-linejoin="round"/>
<path d="M316.6 115.05 L371.06 115.05 L386.57 136.74 L399.75 147.1 L412.93 153.21 L426.11 156.83 L439.29 158.96 L452.47 160.23 L465.65 160.97 L478.83 161.41 L492.01 161.67 L505.19 161.83 L518.37 161.92 L531.55 161.97 L534.45 161.98" fill="none" stroke="#ff1a1a" stroke-width="1.55" stroke-linejoin="round"/>
</g>
<path d="M445 127.6h5.6M456.7 127.6h5.6" stroke="#0000ff" stroke-width="1.5"/>
<line x1="445" y1="139.8" x2="463.1" y2="139.8" stroke="#ff1a1a" stroke-width="1.4"/>
<text transform="translate(465.9 129.7) scale(1 1.12)" font-size="8">C<tspan font-size="5.76" dy="2">ZCB</tspan><tspan dy="-2"> = 1.0 times</tspan></text>
<text transform="translate(465.9 141.9) scale(1 1.12)" font-size="8">C<tspan font-size="5.76" dy="2">ZCB</tspan><tspan dy="-2"> = 9.0 times</tspan></text>
<rect x="316.6" y="105.65" width="217.85" height="61.25" fill="none" stroke="#151515" stroke-width="1.5"/>
<path d="M316.6 162.05h3M534.45 162.05h-3" stroke="#151515" stroke-width="1"/>
<path d="M316.6 143.25h3M534.45 143.25h-3" stroke="#151515" stroke-width="1"/>
<path d="M316.6 124.45h3M534.45 124.45h-3" stroke="#151515" stroke-width="1"/>
<path d="M316.6 105.65h3M534.45 105.65h-3" stroke="#151515" stroke-width="1"/>
<path d="M316.6 152.65h2M534.45 152.65h-2" stroke="#151515" stroke-width="0.9"/>
<path d="M316.6 133.85h2M534.45 133.85h-2" stroke="#151515" stroke-width="0.9"/>
<path d="M316.6 115.05h2M534.45 115.05h-2" stroke="#151515" stroke-width="0.9"/>
<path d="M371.06 166.9v-3M371.06 105.65v3" stroke="#151515" stroke-width="1"/>
<path d="M425.53 166.9v-3M425.53 105.65v3" stroke="#151515" stroke-width="1"/>
<path d="M479.99 166.9v-3M479.99 105.65v3" stroke="#151515" stroke-width="1"/>
<text transform="translate(313.3 164.15) scale(1 1.21)" text-anchor="end" font-size="7.4">0k</text>
<text transform="translate(313.3 145.35) scale(1 1.21)" text-anchor="end" font-size="7.4">2k</text>
<text transform="translate(313.3 126.55) scale(1 1.21)" text-anchor="end" font-size="7.4">4k</text>
<text transform="translate(313.3 107.75) scale(1 1.21)" text-anchor="end" font-size="7.4">6k</text>
<text transform="translate(316.6 176.65) scale(1 1.21)" text-anchor="middle" font-size="7.4">0.00</text>
<text transform="translate(371.06 176.65) scale(1 1.21)" text-anchor="middle" font-size="7.4">0.25</text>
<text transform="translate(425.53 176.65) scale(1 1.21)" text-anchor="middle" font-size="7.4">0.50</text>
<text transform="translate(479.99 176.65) scale(1 1.21)" text-anchor="middle" font-size="7.4">0.75</text>
<text transform="translate(534.45 176.65) scale(1 1.21)" text-anchor="middle" font-size="7.4">1.00</text>
<text x="425.53" y="186.3" text-anchor="middle" font-size="9.4">Time (ms)</text>
<text transform="translate(298.2 135.78) rotate(-90)" text-anchor="middle" font-size="9.8">V<tspan font-size="6.27" dy="2.2">Load</tspan><tspan dy="-2.2"> (V)</tspan></text>
<g>
<path d="M95.1 271.72 L95.4 269.74 L95.7 265.78 L96 263.8 L96.25 264.03 L96.5 264.7 L96.75 265.79 L97 267.23 L97.25 268.95 L97.5 270.88 L97.75 272.9 L98 274.92 L98.25 276.85 L98.5 278.57 L98.75 280.01 L99 281.1 L99.25 281.77 L99.5 282 L99.75 281.31 L100 279.33 L100.25 276.38 L100.5 272.9 L100.75 269.42 L101 266.47 L101.25 264.49 L101.5 263.8 L101.75 264.38 L102 266.03 L102.25 268.49 L102.5 271.4 L102.75 274.31 L103 276.77 L103.25 278.42 L103.5 279 L103.75 278.59 L104 277.42 L104.25 275.67 L104.5 273.6 L104.75 271.53 L105 269.78 L105.25 268.61 L105.5 268.2 L105.76 268.44 L106.03 269.11 L106.29 270.11 L106.55 271.3 L106.81 272.49 L107.07 273.49 L107.34 274.16 L107.6 274.4 L107.87 274.09 L108.14 273.23 L108.41 271.99 L108.69 270.61 L108.96 269.37 L109.23 268.51 L109.5 268.2 L109.76 268.45 L110.03 269.15 L110.29 270.21 L110.55 271.45 L110.81 272.69 L111.07 273.75 L111.34 274.45 L111.6 274.7 L111.86 274.57 L112.13 274.21 L112.39 273.63 L112.65 272.89 L112.92 272.04 L113.18 271.16 L113.45 270.31 L113.71 269.57 L113.97 268.99 L114.24 268.63 L114.5 268.5 L114.76 268.63 L115.02 269.03 L115.28 269.63 L115.54 270.4 L115.8 271.25 L116.06 272.1 L116.32 272.87 L116.58 273.47 L116.84 273.87 L117.1 274 L117.38 273.85 L117.65 273.41 L117.92 272.77 L118.2 272 L118.47 271.23 L118.75 270.59 L119.02 270.15 L119.3 270 L119.58 270.14 L119.85 270.53 L120.12 271.11 L120.4 271.8 L120.67 272.49 L120.95 273.07 L121.22 273.46 L121.5 273.6 L121.75 273.52 L122 273.29 L122.25 272.94 L122.5 272.49 L122.75 272 L123 271.51 L123.25 271.06 L123.5 270.71 L123.75 270.48 L124 270.4 L124.25 270.47 L124.5 270.68 L124.75 271 L125 271.4 L125.25 271.85 L125.5 272.3 L125.75 272.7 L126 273.02 L126.25 273.23 L126.5 273.3 L126.75 273.23 L127 273.04 L127.25 272.74 L127.5 272.37 L127.75 271.95 L128 271.53 L128.25 271.16 L128.5 270.86 L128.75 270.67 L129 270.6 L129.25 270.66 L129.5 270.83 L129.75 271.09 L130 271.43 L130.25 271.8 L130.5 272.17 L130.75 272.51 L131 272.77 L131.25 272.94 L131.5 273 L131.75 272.95 L132 272.79 L132.25 272.55 L132.5 272.24 L132.75 271.9 L133 271.56 L133.25 271.25 L133.5 271.01 L133.75 270.85 L134 270.8 L134.25 270.83 L134.5 270.92 L134.75 271.06 L135 271.25 L135.25 271.47 L135.5 271.7 L135.75 271.93 L136 272.15 L136.25 272.34 L136.5 272.48 L136.75 272.57 L137 272.6 L137.25 272.57 L137.5 272.5 L137.75 272.38 L138 272.23 L138.25 272.04 L138.5 271.85 L138.75 271.66 L139 271.48 L139.25 271.32 L139.5 271.2 L139.75 271.13 L140 271.1 L140.25 271.12 L140.5 271.18 L140.75 271.28 L141 271.4 L141.25 271.54 L141.5 271.7 L141.75 271.86 L142 272 L142.25 272.12 L142.5 272.22 L142.75 272.28 L143 272.3 L143.25 272.29 L143.5 272.27 L143.75 272.22 L144 272.17 L144.25 272.1 L144.5 272.02 L144.75 271.94 L145 271.85 L145.25 271.76 L145.5 271.68 L145.75 271.6 L146 271.53 L146.25 271.48 L146.5 271.43 L146.75 271.41 L147 271.4 L147.25 271.41 L147.5 271.42 L147.75 271.45 L148 271.49 L148.25 271.53 L148.5 271.59 L148.75 271.64 L149 271.7 L149.25 271.76 L149.5 271.81 L149.75 271.87 L150 271.91 L150.25 271.95 L150.5 271.98 L150.75 271.99 L151 272 L151.25 272 L151.5 271.99 L151.75 271.98 L152 271.96 L152.25 271.94 L152.5 271.92 L152.75 271.89 L153 271.86 L153.25 271.83 L153.5 271.8 L153.75 271.77 L154 271.74 L154.25 271.71 L154.5 271.68 L154.75 271.66 L155 271.64 L155.25 271.62 L155.5 271.61 L155.75 271.6 L156 271.6 L156.25 271.6 L156.5 271.6 L156.75 271.6 L157 271.6 L157.25 271.6 L157.5 271.6 L157.75 271.6 L158 271.6 L158.25 271.6 L158.5 271.6 L158.76 271.6 L159.01 271.6 L159.26 271.6 L159.51 271.6 L159.76 271.6 L160.01 271.6 L160.26 271.6 L160.51 271.6 L160.76 271.6 L161.01 271.6 L161.26 271.6 L161.51 271.6 L161.76 271.6 L162.01 271.6 L162.26 271.6 L162.51 271.6 L162.76 271.6 L163.01 271.6 L163.26 271.6 L163.51 271.6 L163.77 271.6 L164.02 271.6 L164.27 271.6 L164.52 271.6 L164.77 271.6 L165.02 271.6 L165.27 271.6 L165.52 271.6 L165.77 271.6 L166.02 271.6 L166.27 271.6 L166.52 271.6 L166.77 271.6 L167.02 271.6 L167.27 271.6 L167.52 271.6 L167.77 271.6 L168.02 271.6 L168.27 271.6 L168.52 271.6 L168.77 271.6 L169.03 271.6 L169.28 271.61 L169.53 271.61 L169.78 271.61 L170.03 271.61 L170.28 271.61 L170.53 271.61 L170.78 271.61 L171.03 271.61 L171.28 271.61 L171.53 271.61 L171.78 271.61 L172.03 271.61 L172.28 271.61 L172.53 271.61 L172.78 271.61 L173.03 271.61 L173.28 271.61 L173.53 271.61 L173.78 271.61 L174.04 271.61 L174.29 271.61 L174.54 271.61 L174.79 271.61 L175.04 271.61 L175.29 271.61 L175.54 271.61 L175.79 271.61 L176.04 271.61 L176.29 271.61 L176.54 271.61 L176.79 271.61 L177.04 271.61 L177.29 271.61 L177.54 271.61 L177.79 271.61 L178.04 271.61 L178.29 271.61 L178.54 271.61 L178.79 271.61 L179.04 271.61 L179.3 271.62 L179.55 271.62 L179.8 271.62 L180.05 271.62 L180.3 271.62 L180.55 271.62 L180.8 271.62 L181.05 271.62 L181.3 271.62 L181.55 271.62 L181.8 271.62 L182.05 271.62 L182.3 271.62 L182.55 271.62 L182.8 271.62 L183.05 271.62 L183.3 271.62 L183.55 271.62 L183.8 271.62 L184.05 271.62 L184.31 271.62 L184.56 271.62 L184.81 271.62 L185.06 271.62 L185.31 271.62 L185.56 271.62 L185.81 271.62 L186.06 271.62 L186.31 271.62 L186.56 271.63 L186.81 271.63 L187.06 271.63 L187.31 271.63 L187.56 271.63 L187.81 271.63 L188.06 271.63 L188.31 271.63 L188.56 271.63 L188.81 271.63 L189.06 271.63 L189.32 271.63 L189.57 271.63 L189.82 271.63 L190.07 271.63 L190.32 271.63 L190.57 271.63 L190.82 271.63 L191.07 271.63 L191.32 271.63 L191.57 271.63 L191.82 271.63 L192.07 271.63 L192.32 271.63 L192.57 271.63 L192.82 271.64 L193.07 271.64 L193.32 271.64 L193.57 271.64 L193.82 271.64 L194.07 271.64 L194.32 271.64 L194.58 271.64 L194.83 271.64 L195.08 271.64 L195.33 271.64 L195.58 271.64 L195.83 271.64 L196.08 271.64 L196.33 271.64 L196.58 271.64 L196.83 271.64 L197.08 271.64 L197.33 271.64 L197.58 271.64 L197.83 271.64 L198.08 271.64 L198.33 271.64 L198.58 271.65 L198.83 271.65 L199.08 271.65 L199.33 271.65 L199.59 271.65 L199.84 271.65 L200.09 271.65 L200.34 271.65 L200.59 271.65 L200.84 271.65 L201.09 271.65 L201.34 271.65 L201.59 271.65 L201.84 271.65 L202.09 271.65 L202.34 271.65 L202.59 271.65 L202.84 271.65 L203.09 271.65 L203.34 271.65 L203.59 271.65 L203.84 271.66 L204.09 271.66 L204.34 271.66 L204.59 271.66 L204.85 271.66 L205.1 271.66 L205.35 271.66 L205.6 271.66 L205.85 271.66 L206.1 271.66 L206.35 271.66 L206.6 271.66 L206.85 271.66 L207.1 271.66 L207.35 271.66 L207.6 271.66 L207.85 271.66 L208.1 271.66 L208.35 271.66 L208.6 271.66 L208.85 271.66 L209.1 271.66 L209.35 271.67 L209.6 271.67 L209.86 271.67 L210.11 271.67 L210.36 271.67 L210.61 271.67 L210.86 271.67 L211.11 271.67 L211.36 271.67 L211.61 271.67 L211.86 271.67 L212.11 271.67 L212.36 271.67 L212.61 271.67 L212.86 271.67 L213.11 271.67 L213.36 271.67 L213.61 271.67 L213.86 271.67 L214.11 271.67 L214.36 271.67 L214.61 271.68 L214.86 271.68 L215.12 271.68 L215.37 271.68 L215.62 271.68 L215.87 271.68 L216.12 271.68 L216.37 271.68 L216.62 271.68 L216.87 271.68 L217.12 271.68 L217.37 271.68 L217.62 271.68 L217.87 271.68 L218.12 271.68 L218.37 271.68 L218.62 271.68 L218.87 271.68 L219.12 271.68 L219.37 271.68 L219.62 271.68 L219.87 271.68 L220.13 271.69 L220.38 271.69 L220.63 271.69 L220.88 271.69 L221.13 271.69 L221.38 271.69 L221.63 271.69 L221.88 271.69 L222.13 271.69 L222.38 271.69 L222.63 271.69 L222.88 271.69 L223.13 271.69 L223.38 271.69 L223.63 271.69 L223.88 271.69 L224.13 271.69 L224.38 271.69 L224.63 271.69 L224.88 271.69 L225.13 271.69 L225.39 271.69 L225.64 271.69 L225.89 271.69 L226.14 271.7 L226.39 271.7 L226.64 271.7 L226.89 271.7 L227.14 271.7 L227.39 271.7 L227.64 271.7 L227.89 271.7 L228.14 271.7 L228.39 271.7 L228.64 271.7 L228.89 271.7 L229.14 271.7 L229.39 271.7 L229.64 271.7 L229.89 271.7 L230.14 271.7 L230.4 271.7 L230.65 271.7 L230.9 271.7 L231.15 271.7 L231.4 271.7 L231.65 271.7 L231.9 271.7 L232.15 271.7 L232.4 271.7 L232.65 271.7 L232.9 271.7 L233.15 271.71 L233.4 271.71 L233.65 271.71 L233.9 271.71 L234.15 271.71 L234.4 271.71 L234.65 271.71 L234.9 271.71 L235.15 271.71 L235.41 271.71 L235.66 271.71 L235.91 271.71 L236.16 271.71 L236.41 271.71 L236.66 271.71 L236.91 271.71 L237.16 271.71 L237.41 271.71 L237.66 271.71 L237.91 271.71 L238.16 271.71 L238.41 271.71 L238.66 271.71 L238.91 271.71 L239.16 271.71 L239.41 271.71 L239.66 271.71 L239.91 271.71 L240.16 271.71 L240.41 271.71 L240.67 271.71 L240.92 271.71 L241.17 271.71 L241.42 271.71 L241.67 271.71 L241.92 271.72 L242.17 271.72 L242.42 271.72 L242.67 271.72 L242.92 271.72 L243.17 271.72 L243.42 271.72 L243.67 271.72 L243.92 271.72 L244.17 271.72 L244.42 271.72 L244.67 271.72 L244.92 271.72 L245.17 271.72 L245.42 271.72 L245.68 271.72 L245.93 271.72 L246.18 271.72 L246.43 271.72 L246.68 271.72 L246.93 271.72 L247.18 271.72 L247.43 271.72 L247.68 271.72 L247.93 271.72 L248.18 271.72 L248.43 271.72 L248.68 271.72 L248.93 271.72 L249.18 271.72 L249.43 271.72 L249.68 271.72 L249.93 271.72 L250.18 271.72 L250.43 271.72 L250.68 271.72 L250.94 271.72 L251.19 271.72 L251.44 271.72 L251.69 271.72 L251.94 271.72 L252.19 271.72 L252.44 271.72 L252.69 271.72 L252.94 271.72 L253.19 271.72 L253.44 271.72 L253.69 271.72 L253.94 271.72 L254.19 271.72 L254.44 271.72 L254.69 271.72 L254.94 271.72 L255.19 271.72 L255.44 271.72 L255.69 271.72 L255.95 271.72 L256.2 271.72 L256.45 271.72 L256.7 271.72 L256.95 271.72 L257.2 271.72 L257.45 271.72 L257.7 271.72 L257.95 271.72 L258.2 271.72 L258.45 271.72" fill="none" stroke="#0000ff" stroke-width="1.35" stroke-dasharray="6 5" stroke-linejoin="round"/>
<path d="M40.65 271.72 L95.1 271.72 L95.1 247.6 L95.35 247.55 L95.6 247.41 L95.86 247.17 L96.11 246.85 L96.36 246.44 L96.61 245.97 L96.87 245.42 L97.12 244.82 L97.37 244.17 L97.62 243.5 L97.87 242.8 L98.13 242.1 L98.38 241.4 L98.63 240.73 L98.88 240.08 L99.13 239.48 L99.39 238.93 L99.64 238.46 L99.89 238.05 L100.14 237.73 L100.4 237.49 L100.65 237.35 L100.9 237.3 L101.15 237.37 L101.4 237.57 L101.65 237.9 L101.9 238.36 L102.15 238.95 L102.4 239.65 L102.65 240.45 L102.9 241.35 L103.15 242.33 L103.4 243.39 L103.65 244.5 L103.9 245.66 L104.15 246.85 L104.4 248.05 L104.65 249.25 L104.9 250.44 L105.15 251.6 L105.4 252.71 L105.65 253.77 L105.9 254.75 L106.15 255.65 L106.4 256.45 L106.65 257.15 L106.9 257.74 L107.15 258.2 L107.4 258.53 L107.65 258.73 L107.9 258.8 L108.16 258.75 L108.42 258.58 L108.68 258.31 L108.94 257.94 L109.2 257.48 L109.45 256.94 L109.71 256.32 L109.97 255.64 L110.23 254.92 L110.49 254.17 L110.75 253.4 L111.01 252.63 L111.27 251.88 L111.53 251.16 L111.79 250.48 L112.05 249.86 L112.3 249.32 L112.56 248.86 L112.82 248.49 L113.08 248.22 L113.34 248.05 L113.6 248 L113.85 248.07 L114.11 248.27 L114.36 248.6 L114.62 249.06 L114.87 249.64 L115.12 250.33 L115.38 251.12 L115.63 252 L115.88 252.95 L116.14 253.97 L116.39 255.04 L116.65 256.14 L116.9 257.25 L117.15 258.36 L117.41 259.46 L117.66 260.53 L117.92 261.55 L118.17 262.5 L118.42 263.38 L118.68 264.17 L118.93 264.86 L119.18 265.44 L119.44 265.9 L119.69 266.23 L119.95 266.43 L120.2 266.5 L120.45 266.46 L120.7 266.33 L120.95 266.11 L121.2 265.81 L121.45 265.44 L121.7 264.99 L121.95 264.48 L122.2 263.91 L122.45 263.29 L122.7 262.63 L122.95 261.94 L123.2 261.22 L123.45 260.5 L123.7 259.78 L123.95 259.06 L124.2 258.37 L124.45 257.71 L124.7 257.09 L124.95 256.52 L125.2 256.01 L125.45 255.56 L125.7 255.19 L125.95 254.89 L126.2 254.67 L126.45 254.54 L126.7 254.5 L126.95 254.58 L127.2 254.82 L127.46 255.22 L127.71 255.77 L127.96 256.45 L128.21 257.26 L128.47 258.18 L128.72 259.2 L128.97 260.29 L129.22 261.43 L129.47 262.61 L129.73 263.79 L129.98 264.97 L130.23 266.11 L130.48 267.2 L130.73 268.22 L130.99 269.14 L131.24 269.95 L131.49 270.63 L131.74 271.18 L132 271.58 L132.25 271.82 L132.5 271.9 L132.75 271.85 L133 271.7 L133.25 271.46 L133.5 271.12 L133.75 270.7 L134 270.19 L134.25 269.61 L134.5 268.96 L134.75 268.26 L135 267.51 L135.25 266.73 L135.5 265.92 L135.75 265.1 L136 264.28 L136.25 263.47 L136.5 262.69 L136.75 261.94 L137 261.24 L137.25 260.59 L137.5 260.01 L137.75 259.5 L138 259.08 L138.25 258.74 L138.5 258.5 L138.75 258.35 L139 258.3 L139.26 258.37 L139.52 258.57 L139.78 258.9 L140.03 259.36 L140.29 259.93 L140.55 260.61 L140.81 261.39 L141.07 262.25 L141.32 263.18 L141.58 264.16 L141.84 265.17 L142.1 266.2 L142.36 267.23 L142.62 268.24 L142.88 269.22 L143.13 270.15 L143.39 271.01 L143.65 271.79 L143.91 272.47 L144.17 273.04 L144.42 273.5 L144.68 273.83 L144.94 274.03 L145.2 274.1 L145.46 274.06 L145.71 273.93 L145.97 273.72 L146.22 273.43 L146.48 273.06 L146.73 272.63 L146.99 272.12 L147.24 271.56 L147.5 270.95 L147.76 270.3 L148.01 269.61 L148.27 268.89 L148.52 268.17 L148.78 267.43 L149.03 266.71 L149.29 265.99 L149.54 265.3 L149.8 264.65 L150.06 264.04 L150.31 263.48 L150.57 262.97 L150.82 262.54 L151.08 262.17 L151.33 261.88 L151.59 261.67 L151.84 261.54 L152.1 261.5 L152.36 261.57 L152.62 261.77 L152.88 262.09 L153.14 262.54 L153.4 263.1 L153.65 263.76 L153.91 264.51 L154.17 265.33 L154.43 266.2 L154.69 267.12 L154.95 268.05 L155.21 268.98 L155.47 269.9 L155.73 270.77 L155.99 271.59 L156.25 272.34 L156.5 273 L156.76 273.56 L157.02 274.01 L157.28 274.33 L157.54 274.53 L157.8 274.6 L158.05 274.56 L158.31 274.45 L158.56 274.26 L158.82 273.99 L159.07 273.66 L159.32 273.27 L159.58 272.81 L159.83 272.31 L160.08 271.76 L160.34 271.18 L160.59 270.57 L160.85 269.94 L161.1 269.3 L161.35 268.66 L161.61 268.03 L161.86 267.42 L162.12 266.84 L162.37 266.29 L162.62 265.79 L162.88 265.33 L163.13 264.94 L163.38 264.61 L163.64 264.34 L163.89 264.15 L164.15 264.04 L164.4 264 L164.66 264.06 L164.92 264.22 L165.18 264.5 L165.44 264.87 L165.7 265.34 L165.95 265.9 L166.21 266.53 L166.47 267.22 L166.73 267.95 L166.99 268.72 L167.25 269.5 L167.51 270.28 L167.77 271.05 L168.03 271.78 L168.29 272.47 L168.55 273.1 L168.8 273.66 L169.06 274.13 L169.32 274.5 L169.58 274.78 L169.84 274.94 L170.1 275 L170.35 274.96 L170.61 274.83 L170.86 274.62 L171.12 274.33 L171.37 273.96 L171.63 273.53 L171.88 273.05 L172.14 272.52 L172.39 271.95 L172.65 271.35 L172.9 270.75 L173.15 270.15 L173.41 269.55 L173.66 268.98 L173.92 268.45 L174.17 267.97 L174.43 267.54 L174.68 267.17 L174.94 266.88 L175.19 266.67 L175.45 266.54 L175.7 266.5 L175.95 266.54 L176.2 266.64 L176.45 266.82 L176.7 267.06 L176.95 267.36 L177.2 267.72 L177.45 268.12 L177.7 268.57 L177.95 269.06 L178.2 269.58 L178.45 270.11 L178.7 270.65 L178.95 271.19 L179.2 271.72 L179.45 272.24 L179.7 272.73 L179.95 273.18 L180.2 273.58 L180.45 273.94 L180.7 274.24 L180.95 274.48 L181.2 274.66 L181.45 274.76 L181.7 274.8 L181.95 274.77 L182.2 274.68 L182.45 274.53 L182.7 274.33 L182.95 274.08 L183.2 273.77 L183.45 273.43 L183.7 273.05 L183.95 272.64 L184.2 272.21 L184.45 271.76 L184.7 271.3 L184.95 270.84 L185.2 270.39 L185.45 269.96 L185.7 269.55 L185.95 269.17 L186.2 268.83 L186.45 268.52 L186.7 268.27 L186.95 268.07 L187.2 267.92 L187.45 267.83 L187.7 267.8 L187.96 267.83 L188.21 267.92 L188.47 268.07 L188.73 268.28 L188.98 268.54 L189.24 268.85 L189.5 269.2 L189.75 269.58 L190.01 269.99 L190.27 270.43 L190.52 270.87 L190.78 271.33 L191.03 271.77 L191.29 272.21 L191.55 272.62 L191.8 273 L192.06 273.35 L192.32 273.66 L192.57 273.92 L192.83 274.13 L193.09 274.28 L193.34 274.37 L193.6 274.4 L193.86 274.37 L194.11 274.29 L194.37 274.16 L194.63 273.98 L194.88 273.75 L195.14 273.48 L195.4 273.17 L195.65 272.83 L195.91 272.47 L196.17 272.09 L196.42 271.7 L196.68 271.3 L196.93 270.91 L197.19 270.53 L197.45 270.17 L197.7 269.83 L197.96 269.52 L198.22 269.25 L198.47 269.02 L198.73 268.84 L198.99 268.71 L199.24 268.63 L199.5 268.6 L199.76 268.63 L200.02 268.71 L200.28 268.85 L200.54 269.04 L200.8 269.27 L201.05 269.55 L201.31 269.86 L201.57 270.21 L201.83 270.58 L202.09 270.96 L202.35 271.35 L202.61 271.74 L202.87 272.12 L203.13 272.49 L203.39 272.84 L203.65 273.15 L203.9 273.43 L204.16 273.66 L204.42 273.85 L204.68 273.99 L204.94 274.07 L205.2 274.1 L205.45 274.08 L205.71 274 L205.96 273.88 L206.22 273.71 L206.47 273.5 L206.73 273.25 L206.98 272.97 L207.24 272.67 L207.49 272.34 L207.75 272 L208 271.65 L208.25 271.3 L208.51 270.96 L208.76 270.63 L209.02 270.33 L209.27 270.05 L209.53 269.8 L209.78 269.59 L210.04 269.42 L210.29 269.3 L210.55 269.22 L210.8 269.2 L211.06 269.22 L211.32 269.3 L211.58 269.41 L211.84 269.57 L212.1 269.77 L212.35 270.01 L212.61 270.28 L212.87 270.57 L213.13 270.89 L213.39 271.22 L213.65 271.55 L213.91 271.88 L214.17 272.21 L214.43 272.53 L214.69 272.82 L214.95 273.09 L215.2 273.33 L215.46 273.53 L215.72 273.69 L215.98 273.8 L216.24 273.88 L216.5 273.9 L216.76 273.88 L217.02 273.81 L217.28 273.71 L217.54 273.56 L217.8 273.37 L218.05 273.16 L218.31 272.91 L218.57 272.64 L218.83 272.36 L219.09 272.06 L219.35 271.75 L219.61 271.44 L219.87 271.14 L220.13 270.86 L220.39 270.59 L220.65 270.34 L220.9 270.13 L221.16 269.94 L221.42 269.79 L221.68 269.69 L221.94 269.62 L222.2 269.6 L222.45 269.62 L222.7 269.67 L222.96 269.77 L223.21 269.89 L223.46 270.05 L223.71 270.23 L223.97 270.45 L224.22 270.68 L224.47 270.93 L224.72 271.19 L224.97 271.46 L225.23 271.74 L225.48 272.01 L225.73 272.27 L225.98 272.52 L226.23 272.75 L226.49 272.97 L226.74 273.15 L226.99 273.31 L227.24 273.43 L227.5 273.53 L227.75 273.58 L228 273.6 L228.25 273.58 L228.51 273.53 L228.76 273.44 L229.02 273.31 L229.27 273.16 L229.53 272.98 L229.78 272.77 L230.04 272.55 L230.29 272.31 L230.55 272.06 L230.8 271.8 L231.05 271.54 L231.31 271.29 L231.56 271.05 L231.82 270.83 L232.07 270.62 L232.33 270.44 L232.58 270.29 L232.84 270.16 L233.09 270.07 L233.35 270.02 L233.6 270 L233.85 270.02 L234.1 270.06 L234.36 270.14 L234.61 270.25 L234.86 270.38 L235.11 270.54 L235.37 270.72 L235.62 270.92 L235.87 271.13 L236.12 271.35 L236.37 271.58 L236.63 271.82 L236.88 272.05 L237.13 272.27 L237.38 272.48 L237.63 272.68 L237.89 272.86 L238.14 273.02 L238.39 273.15 L238.64 273.26 L238.9 273.34 L239.15 273.38 L239.4 273.4 L239.65 273.38 L239.91 273.34 L240.16 273.26 L240.42 273.15 L240.67 273.02 L240.93 272.87 L241.18 272.69 L241.44 272.49 L241.69 272.29 L241.95 272.07 L242.2 271.85 L242.45 271.63 L242.71 271.41 L242.96 271.21 L243.22 271.01 L243.47 270.83 L243.73 270.68 L243.98 270.55 L244.24 270.44 L244.49 270.36 L244.75 270.32 L245 270.3 L245.25 270.31 L245.5 270.35 L245.76 270.42 L246.01 270.51 L246.26 270.63 L246.51 270.76 L246.77 270.91 L247.02 271.08 L247.27 271.26 L247.52 271.45 L247.77 271.65 L248.03 271.85 L248.28 272.05 L248.53 272.24 L248.78 272.42 L249.03 272.59 L249.29 272.74 L249.54 272.87 L249.79 272.99 L250.04 273.08 L250.3 273.15 L250.55 273.19 L250.8 273.2 L251.05 273.19 L251.31 273.15 L251.56 273.08 L251.82 272.99 L252.07 272.88 L252.33 272.75 L252.58 272.6 L252.84 272.44 L253.09 272.27 L253.35 272.09 L253.6 271.9 L253.85 271.71 L254.11 271.53 L254.36 271.36 L254.62 271.2 L254.87 271.05 L255.13 270.92 L255.38 270.81 L255.64 270.72 L255.89 270.65 L256.15 270.61 L256.4 270.6 L256.66 270.62 L256.91 270.66 L257.17 270.72 L257.42 270.8 L257.68 270.88 L257.94 270.94 L258.19 270.98 L258.45 271" fill="none" stroke="#ff2a2a" stroke-width="1.4" stroke-linejoin="round"/>
</g>
<rect x="171" y="234.8" width="84" height="22.4" fill="#fff"/>
<path d="M174.9 240.3h5.6M184.9 240.3h5.6" stroke="#0000ff" stroke-width="1.5"/>
<line x1="174.9" y1="251.7" x2="191.3" y2="251.7" stroke="#ff1a1a" stroke-width="1.4"/>
<text transform="translate(194.5 242.4) scale(1 1.12)" font-size="8">C<tspan font-size="5.76" dy="2">ZCB</tspan><tspan dy="-2"> = 1.0 times</tspan></text>
<text transform="translate(194.5 253.8) scale(1 1.12)" font-size="8">C<tspan font-size="5.76" dy="2">ZCB</tspan><tspan dy="-2"> = 9.0 times</tspan></text>
<rect x="40.65" y="230.05" width="217.8" height="59.3" fill="none" stroke="#3c3c3c" stroke-width="1.3"/>
<path d="M40.65 283.7h3M258.45 283.7h-3" stroke="#3c3c3c" stroke-width="1"/>
<path d="M40.65 271.72h3M258.45 271.72h-3" stroke="#3c3c3c" stroke-width="1"/>
<path d="M40.65 259.75h3M258.45 259.75h-3" stroke="#3c3c3c" stroke-width="1"/>
<path d="M40.65 247.77h3M258.45 247.77h-3" stroke="#3c3c3c" stroke-width="1"/>
<path d="M40.65 235.8h3M258.45 235.8h-3" stroke="#3c3c3c" stroke-width="1"/>
<path d="M95.1 289.35v-3M95.1 230.05v3" stroke="#3c3c3c" stroke-width="1"/>
<path d="M149.55 289.35v-3M149.55 230.05v3" stroke="#3c3c3c" stroke-width="1"/>
<path d="M204 289.35v-3M204 230.05v3" stroke="#3c3c3c" stroke-width="1"/>
<text transform="translate(36.85 286.3) scale(1 1.2)" text-anchor="end" font-size="6.8">-0.5k</text>
<text transform="translate(36.85 274.32) scale(1 1.2)" text-anchor="end" font-size="6.8">0.0k</text>
<text transform="translate(36.85 262.35) scale(1 1.2)" text-anchor="end" font-size="6.8">0.5k</text>
<text transform="translate(36.85 250.37) scale(1 1.2)" text-anchor="end" font-size="6.8">1.0k</text>
<text transform="translate(36.85 238.4) scale(1 1.2)" text-anchor="end" font-size="6.8">1.5k</text>
<text transform="translate(40.65 299.2) scale(1 1.2)" text-anchor="middle" font-size="7">0.00</text>
<text transform="translate(95.1 299.2) scale(1 1.2)" text-anchor="middle" font-size="7">0.25</text>
<text transform="translate(149.55 299.2) scale(1 1.2)" text-anchor="middle" font-size="7">0.50</text>
<text transform="translate(204 299.2) scale(1 1.2)" text-anchor="middle" font-size="7">0.75</text>
<text transform="translate(258.45 299.2) scale(1 1.2)" text-anchor="middle" font-size="7">1.00</text>
<text x="149.55" y="308.95" text-anchor="middle" font-size="9.4">Time (ms)</text>
<text transform="translate(17.1 259.2) rotate(-90)" text-anchor="middle" font-size="9.8">I<tspan font-size="6.27" dy="2.2">C0</tspan><tspan dy="-2.2">+I<tspan font-size="6.27" dy="2.2">C1</tspan><tspan dy="-2.2"> (A)</tspan></tspan></text>
<line x1="40.65" y1="370.75" x2="258.55" y2="370.75" stroke="#f0f0f0" stroke-width="0.8"/>
<line x1="40.65" y1="356.2" x2="258.55" y2="356.2" stroke="#f0f0f0" stroke-width="0.8"/>
<line x1="40.65" y1="341.65" x2="258.55" y2="341.65" stroke="#f0f0f0" stroke-width="0.8"/>
<line x1="40.65" y1="327.1" x2="258.55" y2="327.1" stroke="#f0f0f0" stroke-width="0.8"/>
<g>
<path d="M95.12 356.2 L95.36 351.1 L95.6 346 L95.88 349.15 L96.15 356.75 L96.42 364.35 L96.7 367.5 L97 364.75 L97.3 359.25 L97.6 356.5 L97.9 357.38 L98.2 359.12 L98.5 360 L98.75 359.49 L99 358.25 L99.25 357.01 L99.5 356.5 L99.8 357.38 L100.1 359.12 L100.4 360 L100.68 359.05 L100.96 356.55 L101.24 353.45 L101.52 350.95 L101.8 350 L102.1 351.39 L102.4 354.75 L102.7 358.11 L103 359.5 L103.25 359.1 L103.5 358 L103.75 356.5 L104 355 L104.25 353.9 L104.5 353.5 L104.75 353.9 L105 355 L105.25 356.5 L105.5 358 L105.75 359.1 L106 359.5 L106.25 359.1 L106.5 358 L106.75 356.5 L107 355 L107.25 353.9 L107.5 353.5 L107.75 353.9 L108 355 L108.25 356.5 L108.5 358 L108.75 359.1 L109 359.5 L109.28 359.13 L109.57 358.12 L109.85 356.75 L110.13 355.38 L110.42 354.37 L110.7 354 L110.96 354.27 L111.21 355.04 L111.47 356.14 L111.73 357.36 L111.99 358.46 L112.24 359.23 L112.5 359.5 L112.75 359.31 L113 358.77 L113.25 357.96 L113.5 357 L113.75 356.04 L114 355.23 L114.25 354.69 L114.5 354.5 L114.75 354.68 L115 355.19 L115.25 355.95 L115.5 356.85 L115.75 357.75 L116 358.51 L116.25 359.02 L116.5 359.2 L116.75 359.02 L117 358.51 L117.25 357.75 L117.5 356.85 L117.75 355.95 L118 355.19 L118.25 354.68 L118.5 354.5 L118.75 354.65 L119 355.09 L119.25 355.73 L119.5 356.5 L119.75 357.27 L120 357.91 L120.25 358.35 L120.5 358.5 L120.75 358.37 L121 357.99 L121.25 357.42 L121.5 356.75 L121.75 356.08 L122 355.51 L122.25 355.13 L122.5 355 L122.75 355.12 L123 355.47 L123.25 355.99 L123.5 356.6 L123.75 357.21 L124 357.73 L124.25 358.08 L124.5 358.2 L124.75 358.13 L125 357.92 L125.25 357.6 L125.5 357.2 L125.75 356.75 L126 356.3 L126.25 355.9 L126.5 355.58 L126.75 355.37 L127 355.3 L127.25 355.36 L127.5 355.52 L127.75 355.77 L128 356.09 L128.25 356.45 L128.5 356.81 L128.75 357.13 L129 357.38 L129.25 357.54 L129.5 357.6 L129.75 357.55 L130 357.4 L130.25 357.17 L130.5 356.87 L130.75 356.55 L131 356.23 L131.25 355.93 L131.5 355.7 L131.75 355.55 L132 355.5 L132.25 355.53 L132.5 355.62 L132.75 355.76 L133 355.95 L133.25 356.17 L133.5 356.4 L133.75 356.63 L134 356.85 L134.25 357.04 L134.5 357.18 L134.75 357.27 L135 357.3 L135.25 357.27 L135.5 357.19 L135.75 357.05 L136 356.88 L136.25 356.67 L136.5 356.45 L136.75 356.23 L137 356.03 L137.25 355.85 L137.5 355.71 L137.75 355.63 L138 355.6 L138.25 355.62 L138.5 355.69 L138.75 355.81 L139 355.95 L139.25 356.12 L139.5 356.3 L139.75 356.48 L140 356.65 L140.25 356.79 L140.5 356.91 L140.75 356.98 L141 357 L141.25 356.99 L141.5 356.95 L141.75 356.9 L142 356.82 L142.25 356.73 L142.5 356.63 L142.75 356.52 L143 356.4 L143.25 356.28 L143.5 356.17 L143.75 356.07 L144 355.98 L144.25 355.9 L144.5 355.85 L144.75 355.81 L145 355.8 L145.25 355.81 L145.5 355.82 L145.75 355.85 L146 355.9 L146.25 355.95 L146.5 356.01 L146.75 356.07 L147 356.15 L147.25 356.22 L147.5 356.3 L147.75 356.38 L148 356.45 L148.25 356.53 L148.5 356.59 L148.75 356.65 L149 356.7 L149.25 356.75 L149.5 356.78 L149.75 356.79 L150 356.8 L150.25 356.8 L150.5 356.78 L150.75 356.77 L151 356.74 L151.25 356.71 L151.5 356.67 L151.75 356.62 L152 356.57 L152.25 356.52 L152.5 356.47 L152.75 356.41 L153 356.35 L153.25 356.29 L153.5 356.23 L153.75 356.18 L154 356.12 L154.25 356.08 L154.5 356.03 L154.75 355.99 L155 355.96 L155.25 355.93 L155.5 355.92 L155.75 355.9 L156 355.9 L156.25 355.9 L156.5 355.91 L156.75 355.93 L157 355.95 L157.25 355.97 L157.5 356 L157.75 356.04 L158 356.07 L158.25 356.12 L158.5 356.16 L158.75 356.2 L159 356.25 L159.25 356.3 L159.5 356.34 L159.75 356.38 L160 356.43 L160.25 356.46 L160.5 356.5 L160.75 356.53 L161 356.55 L161.25 356.57 L161.5 356.59 L161.75 356.6 L162 356.6 L162.25 356.6 L162.5 356.59 L162.75 356.59 L163 356.58 L163.25 356.56 L163.5 356.55 L163.75 356.53 L164 356.51 L164.25 356.49 L164.5 356.47 L164.75 356.44 L165 356.41 L165.25 356.39 L165.5 356.36 L165.75 356.33 L166 356.3 L166.25 356.27 L166.5 356.24 L166.75 356.21 L167 356.19 L167.25 356.16 L167.5 356.13 L167.75 356.11 L168 356.09 L168.25 356.07 L168.5 356.05 L168.75 356.04 L169 356.02 L169.25 356.01 L169.5 356.01 L169.75 356 L170 356 L170.25 356 L170.5 356 L170.75 356 L171 356 L171.25 356 L171.5 356 L171.75 356 L172 356 L172.25 356 L172.5 356 L172.75 356 L173 356 L173.25 356 L173.5 356 L173.75 356 L174 356 L174.25 356 L174.5 356 L174.75 356 L175 356 L175.25 356 L175.5 356 L175.75 356 L176 356 L176.25 356 L176.5 356 L176.75 356 L177 356 L177.25 356 L177.5 356 L177.75 356 L178 356 L178.25 356 L178.5 356 L178.75 356 L179.01 356.01 L179.26 356.01 L179.51 356.01 L179.76 356.01 L180.01 356.01 L180.26 356.01 L180.51 356.01 L180.76 356.01 L181.01 356.01 L181.26 356.01 L181.51 356.01 L181.76 356.01 L182.01 356.01 L182.26 356.01 L182.51 356.01 L182.76 356.01 L183.01 356.01 L183.26 356.01 L183.51 356.01 L183.76 356.01 L184.01 356.01 L184.26 356.01 L184.51 356.01 L184.76 356.01 L185.01 356.01 L185.26 356.01 L185.51 356.01 L185.76 356.02 L186.01 356.02 L186.26 356.02 L186.51 356.02 L186.76 356.02 L187.01 356.02 L187.26 356.02 L187.51 356.02 L187.76 356.02 L188.01 356.02 L188.26 356.02 L188.51 356.02 L188.76 356.02 L189.01 356.02 L189.26 356.02 L189.51 356.02 L189.76 356.02 L190.01 356.02 L190.26 356.02 L190.51 356.03 L190.76 356.03 L191.01 356.03 L191.26 356.03 L191.51 356.03 L191.76 356.03 L192.01 356.03 L192.26 356.03 L192.51 356.03 L192.76 356.03 L193.01 356.03 L193.26 356.03 L193.51 356.03 L193.76 356.03 L194.01 356.03 L194.26 356.03 L194.51 356.04 L194.76 356.04 L195.01 356.04 L195.26 356.04 L195.51 356.04 L195.76 356.04 L196.01 356.04 L196.26 356.04 L196.51 356.04 L196.77 356.04 L197.02 356.04 L197.27 356.04 L197.52 356.04 L197.77 356.04 L198.02 356.05 L198.27 356.05 L198.52 356.05 L198.77 356.05 L199.02 356.05 L199.27 356.05 L199.52 356.05 L199.77 356.05 L200.02 356.05 L200.27 356.05 L200.52 356.05 L200.77 356.05 L201.02 356.05 L201.27 356.05 L201.52 356.06 L201.77 356.06 L202.02 356.06 L202.27 356.06 L202.52 356.06 L202.77 356.06 L203.02 356.06 L203.27 356.06 L203.52 356.06 L203.77 356.06 L204.02 356.06 L204.27 356.06 L204.52 356.07 L204.77 356.07 L205.02 356.07 L205.27 356.07 L205.52 356.07 L205.77 356.07 L206.02 356.07 L206.27 356.07 L206.52 356.07 L206.77 356.07 L207.02 356.07 L207.27 356.07 L207.52 356.08 L207.77 356.08 L208.02 356.08 L208.27 356.08 L208.52 356.08 L208.77 356.08 L209.02 356.08 L209.27 356.08 L209.52 356.08 L209.77 356.08 L210.02 356.08 L210.27 356.09 L210.52 356.09 L210.77 356.09 L211.02 356.09 L211.27 356.09 L211.52 356.09 L211.77 356.09 L212.02 356.09 L212.27 356.09 L212.52 356.09 L212.77 356.09 L213.02 356.09 L213.27 356.1 L213.52 356.1 L213.77 356.1 L214.02 356.1 L214.28 356.1 L214.53 356.1 L214.78 356.1 L215.03 356.1 L215.28 356.1 L215.53 356.1 L215.78 356.1 L216.03 356.11 L216.28 356.11 L216.53 356.11 L216.78 356.11 L217.03 356.11 L217.28 356.11 L217.53 356.11 L217.78 356.11 L218.03 356.11 L218.28 356.11 L218.53 356.11 L218.78 356.11 L219.03 356.12 L219.28 356.12 L219.53 356.12 L219.78 356.12 L220.03 356.12 L220.28 356.12 L220.53 356.12 L220.78 356.12 L221.03 356.12 L221.28 356.12 L221.53 356.12 L221.78 356.13 L222.03 356.13 L222.28 356.13 L222.53 356.13 L222.78 356.13 L223.03 356.13 L223.28 356.13 L223.53 356.13 L223.78 356.13 L224.03 356.13 L224.28 356.13 L224.53 356.13 L224.78 356.14 L225.03 356.14 L225.28 356.14 L225.53 356.14 L225.78 356.14 L226.03 356.14 L226.28 356.14 L226.53 356.14 L226.78 356.14 L227.03 356.14 L227.28 356.14 L227.53 356.14 L227.78 356.14 L228.03 356.15 L228.28 356.15 L228.53 356.15 L228.78 356.15 L229.03 356.15 L229.28 356.15 L229.53 356.15 L229.78 356.15 L230.03 356.15 L230.28 356.15 L230.53 356.15 L230.78 356.15 L231.03 356.15 L231.28 356.16 L231.53 356.16 L231.78 356.16 L232.04 356.16 L232.29 356.16 L232.54 356.16 L232.79 356.16 L233.04 356.16 L233.29 356.16 L233.54 356.16 L233.79 356.16 L234.04 356.16 L234.29 356.16 L234.54 356.16 L234.79 356.16 L235.04 356.17 L235.29 356.17 L235.54 356.17 L235.79 356.17 L236.04 356.17 L236.29 356.17 L236.54 356.17 L236.79 356.17 L237.04 356.17 L237.29 356.17 L237.54 356.17 L237.79 356.17 L238.04 356.17 L238.29 356.17 L238.54 356.17 L238.79 356.17 L239.04 356.18 L239.29 356.18 L239.54 356.18 L239.79 356.18 L240.04 356.18 L240.29 356.18 L240.54 356.18 L240.79 356.18 L241.04 356.18 L241.29 356.18 L241.54 356.18 L241.79 356.18 L242.04 356.18 L242.29 356.18 L242.54 356.18 L242.79 356.18 L243.04 356.18 L243.29 356.18 L243.54 356.18 L243.79 356.18 L244.04 356.19 L244.29 356.19 L244.54 356.19 L244.79 356.19 L245.04 356.19 L245.29 356.19 L245.54 356.19 L245.79 356.19 L246.04 356.19 L246.29 356.19 L246.54 356.19 L246.79 356.19 L247.04 356.19 L247.29 356.19 L247.54 356.19 L247.79 356.19 L248.04 356.19 L248.29 356.19 L248.54 356.19 L248.79 356.19 L249.04 356.19 L249.29 356.19 L249.54 356.19 L249.8 356.19 L250.05 356.19 L250.3 356.19 L250.55 356.19 L250.8 356.19 L251.05 356.19 L251.3 356.19 L251.55 356.19 L251.8 356.2 L252.05 356.2 L252.3 356.2 L252.55 356.2 L252.8 356.2 L253.05 356.2 L253.3 356.2 L253.55 356.2 L253.8 356.2 L254.05 356.2 L254.3 356.2 L254.55 356.2 L254.8 356.2 L255.05 356.2 L255.3 356.2 L255.55 356.2 L255.8 356.2 L256.05 356.2 L256.3 356.2 L256.55 356.2 L256.8 356.2 L257.05 356.2 L257.3 356.2 L257.55 356.2 L257.8 356.2 L258.05 356.2 L258.3 356.2 L258.55 356.2" fill="none" stroke="#0000ff" stroke-width="1.35" stroke-dasharray="6 5" stroke-linejoin="round"/>
<path d="M40.65 356.2 L95.12 356.2 L95.12 324.5 L95.38 324.6 L95.63 324.89 L95.88 325.37 L96.13 326.04 L96.38 326.88 L96.63 327.87 L96.88 329.01 L97.13 330.28 L97.38 331.65 L97.64 333.1 L97.89 334.62 L98.14 336.17 L98.39 337.73 L98.64 339.28 L98.89 340.8 L99.14 342.25 L99.39 343.62 L99.64 344.89 L99.89 346.03 L100.15 347.02 L100.4 347.86 L100.65 348.53 L100.9 349.01 L101.15 349.3 L101.4 349.4 L101.66 349.33 L101.92 349.12 L102.18 348.76 L102.43 348.28 L102.69 347.67 L102.95 346.95 L103.21 346.13 L103.47 345.22 L103.72 344.25 L103.98 343.21 L104.24 342.14 L104.5 341.05 L104.76 339.96 L105.02 338.89 L105.28 337.85 L105.53 336.88 L105.79 335.97 L106.05 335.15 L106.31 334.43 L106.57 333.82 L106.82 333.34 L107.08 332.98 L107.34 332.77 L107.6 332.7 L107.85 332.8 L108.1 333.08 L108.35 333.55 L108.6 334.2 L108.85 335.01 L109.1 335.98 L109.35 337.08 L109.6 338.3 L109.85 339.61 L110.1 341 L110.35 342.44 L110.6 343.9 L110.85 345.36 L111.1 346.8 L111.35 348.19 L111.6 349.5 L111.85 350.72 L112.1 351.82 L112.35 352.79 L112.6 353.6 L112.85 354.25 L113.1 354.72 L113.35 355 L113.6 355.1 L113.85 355.04 L114.1 354.84 L114.36 354.52 L114.61 354.09 L114.86 353.53 L115.11 352.88 L115.36 352.13 L115.62 351.29 L115.87 350.39 L116.12 349.43 L116.37 348.44 L116.62 347.41 L116.88 346.39 L117.13 345.36 L117.38 344.37 L117.63 343.41 L117.88 342.51 L118.14 341.67 L118.39 340.92 L118.64 340.27 L118.89 339.71 L119.14 339.28 L119.4 338.96 L119.65 338.76 L119.9 338.7 L120.15 338.78 L120.4 339.02 L120.66 339.42 L120.91 339.97 L121.16 340.66 L121.41 341.48 L121.66 342.42 L121.92 343.46 L122.17 344.59 L122.42 345.78 L122.67 347.03 L122.92 348.31 L123.18 349.59 L123.43 350.87 L123.68 352.12 L123.93 353.31 L124.18 354.44 L124.44 355.48 L124.69 356.42 L124.94 357.24 L125.19 357.93 L125.44 358.48 L125.7 358.88 L125.95 359.12 L126.2 359.2 L126.45 359.13 L126.7 358.93 L126.96 358.6 L127.21 358.14 L127.46 357.56 L127.71 356.87 L127.96 356.08 L128.22 355.21 L128.47 354.26 L128.72 353.26 L128.97 352.21 L129.22 351.14 L129.48 350.06 L129.73 348.99 L129.98 347.94 L130.23 346.94 L130.48 345.99 L130.74 345.12 L130.99 344.33 L131.24 343.64 L131.49 343.06 L131.74 342.6 L132 342.27 L132.25 342.07 L132.5 342 L132.75 342.07 L133 342.28 L133.25 342.64 L133.5 343.12 L133.75 343.73 L134 344.46 L134.25 345.3 L134.5 346.23 L134.75 347.25 L135 348.32 L135.25 349.45 L135.5 350.62 L135.75 351.8 L136 352.98 L136.25 354.15 L136.5 355.28 L136.75 356.35 L137 357.37 L137.25 358.3 L137.5 359.14 L137.75 359.87 L138 360.48 L138.25 360.96 L138.5 361.32 L138.75 361.53 L139 361.6 L139.26 361.53 L139.52 361.31 L139.78 360.95 L140.03 360.45 L140.29 359.83 L140.55 359.1 L140.81 358.25 L141.07 357.33 L141.32 356.32 L141.58 355.26 L141.84 354.17 L142.1 353.05 L142.36 351.93 L142.62 350.84 L142.88 349.78 L143.13 348.78 L143.39 347.85 L143.65 347 L143.91 346.27 L144.17 345.65 L144.42 345.15 L144.68 344.79 L144.94 344.57 L145.2 344.5 L145.46 344.56 L145.71 344.74 L145.97 345.03 L146.22 345.44 L146.48 345.95 L146.73 346.56 L146.99 347.26 L147.24 348.05 L147.5 348.9 L147.76 349.81 L148.01 350.78 L148.27 351.77 L148.52 352.79 L148.78 353.81 L149.03 354.83 L149.29 355.82 L149.54 356.79 L149.8 357.7 L150.06 358.55 L150.31 359.34 L150.57 360.04 L150.82 360.65 L151.08 361.16 L151.33 361.57 L151.59 361.86 L151.84 362.04 L152.1 362.1 L152.36 362.02 L152.62 361.78 L152.88 361.39 L153.14 360.85 L153.4 360.18 L153.65 359.39 L153.91 358.49 L154.17 357.51 L154.43 356.46 L154.69 355.37 L154.95 354.25 L155.21 353.13 L155.47 352.04 L155.73 350.99 L155.99 350.01 L156.25 349.11 L156.5 348.32 L156.76 347.65 L157.02 347.11 L157.28 346.72 L157.54 346.48 L157.8 346.4 L158.05 346.46 L158.31 346.62 L158.56 346.89 L158.82 347.27 L159.07 347.75 L159.32 348.31 L159.58 348.96 L159.83 349.68 L160.08 350.47 L160.34 351.31 L160.59 352.18 L160.85 353.08 L161.1 354 L161.35 354.92 L161.61 355.82 L161.86 356.69 L162.12 357.53 L162.37 358.32 L162.62 359.04 L162.88 359.69 L163.13 360.25 L163.38 360.73 L163.64 361.11 L163.89 361.38 L164.15 361.54 L164.4 361.6 L164.66 361.54 L164.92 361.34 L165.18 361.03 L165.44 360.6 L165.7 360.06 L165.95 359.43 L166.21 358.71 L166.47 357.92 L166.73 357.07 L166.99 356.2 L167.25 355.3 L167.51 354.4 L167.77 353.53 L168.03 352.68 L168.29 351.89 L168.55 351.17 L168.8 350.54 L169.06 350 L169.32 349.57 L169.58 349.26 L169.84 349.06 L170.1 349 L170.36 349.05 L170.62 349.2 L170.88 349.44 L171.13 349.78 L171.39 350.2 L171.65 350.7 L171.91 351.27 L172.17 351.9 L172.43 352.58 L172.68 353.3 L172.94 354.04 L173.2 354.8 L173.46 355.56 L173.72 356.3 L173.97 357.02 L174.23 357.7 L174.49 358.33 L174.75 358.9 L175.01 359.4 L175.27 359.82 L175.53 360.16 L175.78 360.4 L176.04 360.55 L176.3 360.6 L176.56 360.56 L176.82 360.43 L177.08 360.22 L177.33 359.93 L177.59 359.57 L177.85 359.14 L178.11 358.64 L178.37 358.1 L178.62 357.51 L178.88 356.89 L179.14 356.25 L179.4 355.6 L179.66 354.95 L179.92 354.31 L180.18 353.69 L180.43 353.1 L180.69 352.56 L180.95 352.06 L181.21 351.63 L181.47 351.27 L181.72 350.98 L181.98 350.77 L182.24 350.64 L182.5 350.6 L182.76 350.64 L183.02 350.76 L183.28 350.96 L183.53 351.23 L183.79 351.57 L184.05 351.98 L184.31 352.44 L184.57 352.95 L184.82 353.5 L185.08 354.08 L185.34 354.69 L185.6 355.3 L185.86 355.91 L186.12 356.52 L186.38 357.1 L186.63 357.65 L186.89 358.16 L187.15 358.62 L187.41 359.03 L187.67 359.37 L187.92 359.64 L188.18 359.84 L188.44 359.96 L188.7 360 L188.96 359.96 L189.22 359.86 L189.47 359.68 L189.73 359.44 L189.99 359.13 L190.25 358.77 L190.51 358.36 L190.77 357.9 L191.03 357.41 L191.28 356.89 L191.54 356.35 L191.8 355.8 L192.06 355.25 L192.32 354.71 L192.57 354.19 L192.83 353.7 L193.09 353.24 L193.35 352.83 L193.61 352.47 L193.87 352.16 L194.12 351.92 L194.38 351.74 L194.64 351.64 L194.9 351.6 L195.16 351.63 L195.42 351.74 L195.68 351.9 L195.93 352.14 L196.19 352.43 L196.45 352.77 L196.71 353.16 L196.97 353.6 L197.22 354.07 L197.48 354.56 L197.74 355.08 L198 355.6 L198.26 356.12 L198.52 356.64 L198.78 357.13 L199.03 357.6 L199.29 358.04 L199.55 358.43 L199.81 358.77 L200.07 359.06 L200.32 359.3 L200.58 359.46 L200.84 359.57 L201.1 359.6 L201.36 359.57 L201.62 359.47 L201.88 359.32 L202.13 359.1 L202.39 358.84 L202.65 358.52 L202.91 358.15 L203.17 357.75 L203.43 357.32 L203.68 356.86 L203.94 356.38 L204.2 355.9 L204.46 355.42 L204.72 354.94 L204.97 354.48 L205.23 354.05 L205.49 353.65 L205.75 353.28 L206.01 352.96 L206.27 352.7 L206.53 352.48 L206.78 352.33 L207.04 352.23 L207.3 352.2 L207.56 352.23 L207.82 352.32 L208.08 352.47 L208.33 352.67 L208.59 352.92 L208.85 353.23 L209.11 353.57 L209.37 353.95 L209.62 354.36 L209.88 354.79 L210.14 355.24 L210.4 355.7 L210.66 356.16 L210.92 356.61 L211.18 357.04 L211.43 357.45 L211.69 357.83 L211.95 358.17 L212.21 358.48 L212.47 358.73 L212.72 358.93 L212.98 359.08 L213.24 359.17 L213.5 359.2 L213.76 359.17 L214.02 359.09 L214.28 358.96 L214.53 358.77 L214.79 358.54 L215.05 358.26 L215.31 357.95 L215.57 357.6 L215.82 357.22 L216.08 356.83 L216.34 356.42 L216.6 356 L216.86 355.58 L217.12 355.17 L217.38 354.78 L217.63 354.4 L217.89 354.05 L218.15 353.74 L218.41 353.46 L218.67 353.23 L218.92 353.04 L219.18 352.91 L219.44 352.83 L219.7 352.8 L219.96 352.83 L220.22 352.9 L220.47 353.03 L220.73 353.21 L220.99 353.43 L221.25 353.69 L221.51 353.99 L221.77 354.32 L222.03 354.68 L222.28 355.06 L222.54 355.45 L222.8 355.85 L223.06 356.25 L223.32 356.64 L223.57 357.02 L223.83 357.38 L224.09 357.71 L224.35 358.01 L224.61 358.27 L224.87 358.49 L225.12 358.67 L225.38 358.8 L225.64 358.87 L225.9 358.9 L226.16 358.88 L226.42 358.8 L226.68 358.69 L226.93 358.52 L227.19 358.32 L227.45 358.08 L227.71 357.8 L227.97 357.5 L228.22 357.17 L228.48 356.82 L228.74 356.47 L229 356.1 L229.26 355.73 L229.52 355.38 L229.78 355.03 L230.03 354.7 L230.29 354.4 L230.55 354.12 L230.81 353.88 L231.07 353.68 L231.32 353.51 L231.58 353.4 L231.84 353.32 L232.1 353.3 L232.36 353.32 L232.62 353.39 L232.88 353.5 L233.13 353.66 L233.39 353.85 L233.65 354.08 L233.91 354.34 L234.17 354.62 L234.43 354.94 L234.68 355.26 L234.94 355.6 L235.2 355.95 L235.46 356.3 L235.72 356.64 L235.97 356.96 L236.23 357.28 L236.49 357.56 L236.75 357.82 L237.01 358.05 L237.27 358.24 L237.53 358.4 L237.78 358.51 L238.04 358.58 L238.3 358.6 L238.56 358.58 L238.82 358.52 L239.08 358.41 L239.33 358.27 L239.59 358.09 L239.85 357.88 L240.11 357.64 L240.37 357.38 L240.62 357.09 L240.88 356.78 L241.14 356.47 L241.4 356.15 L241.66 355.83 L241.92 355.52 L242.18 355.21 L242.43 354.93 L242.69 354.66 L242.95 354.42 L243.21 354.21 L243.47 354.03 L243.72 353.89 L243.98 353.78 L244.24 353.72 L244.5 353.7 L244.76 353.72 L245.02 353.78 L245.28 353.88 L245.53 354.01 L245.79 354.19 L246.05 354.39 L246.31 354.62 L246.57 354.88 L246.82 355.15 L247.08 355.44 L247.34 355.74 L247.6 356.05 L247.86 356.36 L248.12 356.66 L248.38 356.95 L248.63 357.22 L248.89 357.48 L249.15 357.71 L249.41 357.91 L249.67 358.09 L249.92 358.22 L250.18 358.32 L250.44 358.38 L250.7 358.4 L250.96 358.38 L251.22 358.33 L251.47 358.23 L251.73 358.11 L251.99 357.95 L252.25 357.76 L252.51 357.54 L252.77 357.3 L253.02 357.04 L253.28 356.77 L253.54 356.49 L253.8 356.2 L254.06 355.91 L254.32 355.63 L254.57 355.36 L254.83 355.1 L255.09 354.86 L255.35 354.64 L255.61 354.45 L255.87 354.29 L256.12 354.17 L256.38 354.07 L256.64 354.02 L256.9 354 L257.17 354.01 L257.45 354.05 L257.73 354.1 L258 354.15 L258.27 354.19 L258.55 354.2" fill="none" stroke="#ff2a2a" stroke-width="1.4" stroke-linejoin="round"/>
</g>
<rect x="171" y="321.7" width="85" height="22.4" fill="#fff"/>
<path d="M174.6 327.2h5.6M184.7 327.2h5.6" stroke="#0000ff" stroke-width="1.5"/>
<line x1="174.6" y1="338.6" x2="191.1" y2="338.6" stroke="#ff1a1a" stroke-width="1.4"/>
<text transform="translate(194.9 329.3) scale(1 1.12)" font-size="8">C<tspan font-size="5.76" dy="2">ZCB</tspan><tspan dy="-2"> = 1.0 times</tspan></text>
<text transform="translate(194.9 340.7) scale(1 1.12)" font-size="8">C<tspan font-size="5.76" dy="2">ZCB</tspan><tspan dy="-2"> = 9.0 times</tspan></text>
<rect x="40.65" y="318.75" width="217.9" height="59.3" fill="none" stroke="#3c3c3c" stroke-width="1.3"/>
<path d="M40.65 370.75h3M258.55 370.75h-3" stroke="#3c3c3c" stroke-width="1"/>
<path d="M40.65 356.2h3M258.55 356.2h-3" stroke="#3c3c3c" stroke-width="1"/>
<path d="M40.65 341.65h3M258.55 341.65h-3" stroke="#3c3c3c" stroke-width="1"/>
<path d="M40.65 327.1h3M258.55 327.1h-3" stroke="#3c3c3c" stroke-width="1"/>
<path d="M95.12 378.05v-3M95.12 318.75v3" stroke="#3c3c3c" stroke-width="1"/>
<path d="M149.6 378.05v-3M149.6 318.75v3" stroke="#3c3c3c" stroke-width="1"/>
<path d="M204.08 378.05v-3M204.08 318.75v3" stroke="#3c3c3c" stroke-width="1"/>
<text transform="translate(36.85 373.35) scale(1 1.2)" text-anchor="end" font-size="6.8">-0.5k</text>
<text transform="translate(36.85 358.8) scale(1 1.2)" text-anchor="end" font-size="6.8">0.0k</text>
<text transform="translate(36.85 344.25) scale(1 1.2)" text-anchor="end" font-size="6.8">0.5k</text>
<text transform="translate(36.85 329.7) scale(1 1.2)" text-anchor="end" font-size="6.8">1.0k</text>
<text transform="translate(40.65 387.3) scale(1 1.2)" text-anchor="middle" font-size="7">0.00</text>
<text transform="translate(95.12 387.3) scale(1 1.2)" text-anchor="middle" font-size="7">0.25</text>
<text transform="translate(149.6 387.3) scale(1 1.2)" text-anchor="middle" font-size="7">0.50</text>
<text transform="translate(204.08 387.3) scale(1 1.2)" text-anchor="middle" font-size="7">0.75</text>
<text transform="translate(258.55 387.3) scale(1 1.2)" text-anchor="middle" font-size="7">1.00</text>
<text x="149.6" y="397.95" text-anchor="middle" font-size="9.4">Time (ms)</text>
<text transform="translate(18.3 347.9) rotate(-90)" text-anchor="middle" font-size="9.8">I<tspan font-size="6.27" dy="2.2">C2</tspan><tspan dy="-2.2">+I<tspan font-size="6.27" dy="2.2">CL</tspan><tspan dy="-2.2"> (A)</tspan></tspan></text>
<line x1="315.5" y1="276.31" x2="532.65" y2="276.31" stroke="#e2e2e2" stroke-width="0.8"/>
<line x1="315.5" y1="257.65" x2="532.65" y2="257.65" stroke="#e2e2e2" stroke-width="0.8"/>
<line x1="315.5" y1="238.98" x2="532.65" y2="238.98" stroke="#e2e2e2" stroke-width="0.8"/>
<line x1="315.5" y1="285.65" x2="532.65" y2="285.65" stroke="#cdcdcd" stroke-width="0.8" stroke-dasharray="2 1.5"/>
<line x1="315.5" y1="266.98" x2="532.65" y2="266.98" stroke="#cdcdcd" stroke-width="0.8" stroke-dasharray="2 1.5"/>
<line x1="315.5" y1="248.32" x2="532.65" y2="248.32" stroke="#cdcdcd" stroke-width="0.8" stroke-dasharray="2 1.5"/>
<line x1="369.79" y1="229.65" x2="369.79" y2="290.35" stroke="#cdcdcd" stroke-width="0.8" stroke-dasharray="2 1.5"/>
<line x1="424.07" y1="229.65" x2="424.07" y2="290.35" stroke="#cdcdcd" stroke-width="0.8" stroke-dasharray="2 1.5"/>
<line x1="478.36" y1="229.65" x2="478.36" y2="290.35" stroke="#cdcdcd" stroke-width="0.8" stroke-dasharray="2 1.5"/>
<g>
<path d="M369.79 266.98 L370.06 266.36 L370.33 264.55 L370.6 261.73 L370.87 258.18 L371.14 254.24 L371.42 250.3 L371.69 246.75 L371.96 243.93 L372.23 242.12 L372.5 241.5 L372.75 241.57 L373.01 241.79 L373.26 242.15 L373.51 242.64 L373.76 243.23 L374.02 243.91 L374.27 244.66 L374.52 245.45 L374.78 246.25 L375.03 247.04 L375.28 247.79 L375.54 248.47 L375.79 249.06 L376.04 249.55 L376.29 249.91 L376.55 250.13 L376.8 250.2 L377.05 250.05 L377.3 249.74 L377.55 249.3 L377.8 248.74 L378.05 248.1 L378.3 247.39 L378.55 246.65 L378.8 245.9 L379.05 245.18 L379.3 244.51 L379.55 243.91 L379.8 243.41 L380.05 243.02 L380.3 242.75 L380.55 242.62 L380.8 242.61 L381.05 242.72 L381.3 242.96 L381.55 243.3 L381.8 243.72 L382.05 244.22 L382.3 244.76 L382.55 245.33 L382.8 245.9 L383.05 246.45 L383.3 246.97 L383.55 247.42 L383.8 247.81 L384.05 248.1 L384.3 248.31 L384.55 248.42 L384.8 248.42 L385.05 248.33 L385.3 248.15 L385.55 247.9 L385.8 247.57 L386.05 247.19 L386.3 246.77 L386.55 246.34 L386.8 245.9 L387.05 245.48 L387.3 245.08 L387.55 244.73 L387.8 244.44 L388.05 244.21 L388.3 244.05 L388.55 243.97 L388.8 243.97 L389.05 244.04 L389.3 244.17 L389.55 244.37 L389.8 244.62 L390.05 244.91 L390.3 245.23 L390.55 245.56 L390.8 245.9 L391.05 246.22 L391.3 246.53 L391.55 246.79 L391.8 247.02 L392.05 247.19 L392.3 247.31 L392.55 247.38 L392.8 247.38 L393.05 247.33 L393.3 247.22 L393.55 247.07 L393.8 246.88 L394.05 246.66 L394.3 246.41 L394.55 246.16 L394.8 245.9 L395.05 245.65 L395.3 245.42 L395.55 245.22 L395.8 245.04 L396.05 244.91 L396.3 244.82 L396.55 244.77 L396.8 244.77 L397.05 244.81 L397.3 244.89 L397.55 245 L397.8 245.15 L398.05 245.32 L398.3 245.51 L398.55 245.7 L398.8 245.9 L399.05 246.09 L399.3 246.27 L399.55 246.42 L399.8 246.56 L400.05 246.66 L400.3 246.73 L400.55 246.77 L400.8 246.77 L401.05 246.74 L401.3 246.68 L401.55 246.59 L401.8 246.47 L402.05 246.34 L402.3 246.2 L402.55 246.05 L402.8 245.9 L403.05 245.75 L403.3 245.62 L403.55 245.5 L403.8 245.4 L404.05 245.32 L404.3 245.26 L404.55 245.24 L404.8 245.24 L405.05 245.26 L405.3 245.31 L405.55 245.37 L405.8 245.46 L406.05 245.56 L406.3 245.67 L406.55 245.78 L406.8 245.9 L407.05 246.01 L407.3 246.12 L407.55 246.21 L407.8 246.28 L408.05 246.35 L408.3 246.39 L408.55 246.41 L408.8 246.41 L409.05 246.39 L409.3 246.36 L409.55 246.3 L409.8 246.24 L410.05 246.16 L410.3 246.08 L410.55 245.99 L410.8 245.9 L411.05 245.81 L411.3 245.74 L411.55 245.66 L411.8 245.61 L412.05 245.56 L412.3 245.53 L412.55 245.51 L412.8 245.51 L413.05 245.52 L413.3 245.55 L413.55 245.59 L413.8 245.64 L414.05 245.7 L414.3 245.76 L414.55 245.83 L414.8 245.9 L415.05 245.97 L415.3 246.03 L415.55 246.08 L415.8 246.13 L416.05 246.16 L416.3 246.19 L416.55 246.2 L416.8 246.2 L417.05 246.19 L417.3 246.17 L417.55 246.14 L417.8 246.1 L418.05 246.05 L418.3 246 L418.55 245.95 L418.8 245.9 L419.05 245.85 L419.3 245.8 L419.55 245.76 L419.8 245.73 L420.05 245.7 L420.3 245.68 L420.55 245.67 L420.8 245.67 L421.05 245.68 L421.3 245.7 L421.55 245.72 L421.8 245.75 L422.05 245.78 L422.3 245.82 L422.55 245.86 L422.8 245.9 L423.05 245.94 L423.3 245.97 L423.55 246.01 L423.8 246.03 L424.05 246.05 L424.3 246.07 L424.55 246.07 L424.8 246.08 L425.05 246.07 L425.3 246.06 L425.55 246.04 L425.8 246.02 L426.05 245.99 L426.3 245.96 L426.55 245.93 L426.8 245.9 L427.05 245.87 L427.3 245.84 L427.55 245.82 L427.8 245.8 L428.05 245.78 L428.3 245.77 L428.55 245.77 L428.8 245.77 L429.05 245.77 L429.3 245.78 L429.55 245.79 L429.8 245.81 L430.05 245.83 L430.3 245.85 L430.55 245.88 L430.8 245.9 L431.05 245.92 L431.3 245.94 L431.55 245.96 L431.8 245.98 L432.05 245.99 L432.3 246 L432.55 246 L432.8 246 L433.05 246 L433.3 245.99 L433.55 245.98 L433.8 245.97 L434.05 245.95 L434.3 245.94 L434.55 245.92 L434.8 245.9 L435.05 245.88 L435.3 245.87 L435.55 245.85 L435.8 245.84 L436.05 245.83 L436.3 245.82 L436.55 245.82 L436.8 245.82 L437.05 245.82 L437.3 245.83 L437.55 245.84 L437.8 245.85 L438.05 245.86 L438.3 245.87 L438.55 245.89 L438.8 245.9 L439.05 245.91 L439.3 245.93 L439.55 245.94 L439.8 245.95 L440.05 245.95 L440.3 245.96 L440.55 245.96 L440.8 245.96 L441.05 245.96 L441.3 245.95 L441.55 245.95 L441.8 245.94 L442.05 245.93 L442.3 245.92 L442.55 245.91 L442.8 245.9 L443.05 245.89 L443.3 245.88 L443.55 245.87 L443.8 245.87 L444.05 245.86 L444.3 245.86 L444.55 245.85 L444.8 245.85 L445.05 245.86 L445.3 245.86 L445.55 245.86 L445.8 245.87 L446.05 245.88 L446.3 245.88 L446.55 245.89 L446.8 245.9 L447.05 245.91 L447.3 245.91 L447.55 245.92 L447.8 245.93 L448.05 245.93 L448.3 245.93 L448.55 245.94 L448.8 245.94 L449.05 245.93 L449.3 245.93 L449.55 245.93 L449.8 245.92 L450.05 245.92 L450.3 245.91 L450.55 245.91 L450.8 245.9 L451.05 245.89 L451.3 245.89 L451.55 245.88 L451.8 245.88 L452.05 245.88 L452.3 245.87 L452.55 245.87 L452.8 245.87 L453.05 245.87 L453.3 245.88 L453.55 245.88 L453.8 245.88 L454.05 245.89 L454.3 245.89 L454.55 245.9 L454.8 245.9 L455.05 245.9 L455.3 245.91 L455.55 245.91 L455.8 245.92 L456.05 245.92 L456.3 245.92 L456.55 245.92 L456.8 245.92 L457.05 245.92 L457.3 245.92 L457.55 245.92 L457.8 245.91 L458.05 245.91 L458.3 245.91 L458.55 245.9 L458.8 245.9 L459.05 245.9 L459.3 245.89 L459.55 245.89 L459.8 245.89 L460.05 245.89 L460.3 245.88 L460.55 245.88 L460.8 245.88 L461.05 245.88 L461.3 245.89 L461.55 245.89 L461.8 245.89 L462.05 245.89 L462.3 245.89 L462.55 245.9 L462.8 245.9 L463.05 245.9 L463.3 245.91 L463.55 245.91 L463.8 245.91 L464.05 245.91 L464.3 245.91 L464.55 245.91 L464.8 245.91 L465.05 245.91 L465.3 245.91 L465.55 245.91 L465.8 245.91 L466.05 245.91 L466.3 245.9 L466.55 245.9 L466.8 245.9 L467.05 245.9 L467.3 245.9 L467.55 245.89 L467.8 245.89 L468.05 245.89 L468.3 245.89 L468.55 245.89 L468.8 245.89 L469.05 245.89 L469.3 245.89 L469.55 245.89 L469.8 245.89 L470.05 245.9 L470.3 245.9 L470.55 245.9 L470.8 245.9 L471.05 245.9 L471.3 245.9 L471.55 245.9 L471.8 245.91 L472.05 245.91 L472.3 245.91 L472.55 245.91 L472.8 245.91 L473.05 245.91 L473.3 245.91 L473.55 245.91 L473.8 245.9 L474.05 245.9 L474.3 245.9 L474.55 245.9 L474.8 245.9 L475.05 245.9 L475.3 245.9 L475.55 245.9 L475.8 245.9 L476.05 245.9 L476.3 245.89 L476.55 245.89 L476.8 245.89 L477.05 245.89 L477.3 245.9 L477.55 245.9 L477.8 245.9 L478.05 245.9 L478.3 245.9 L478.55 245.9 L478.8 245.9 L479.05 245.9 L479.3 245.9 L479.55 245.9 L479.8 245.9 L480.05 245.9 L480.3 245.9 L480.55 245.9 L480.8 245.9 L481.05 245.9 L481.3 245.9 L481.55 245.9 L481.8 245.9 L482.05 245.9 L482.3 245.9 L482.55 245.9 L482.8 245.9 L483.05 245.9 L483.3 245.9 L483.55 245.9 L483.8 245.9 L484.05 245.9 L484.3 245.9 L484.55 245.9 L484.8 245.9 L485.05 245.9 L485.3 245.9 L485.55 245.9 L485.8 245.9 L486.05 245.9 L486.3 245.9 L486.55 245.9 L486.8 245.9 L487.05 245.9 L487.3 245.9 L487.55 245.9 L487.8 245.9 L488.05 245.9 L488.3 245.9 L488.55 245.9 L488.8 245.9 L489.05 245.9 L489.3 245.9 L489.55 245.9 L489.8 245.9 L490.05 245.9 L490.3 245.9 L490.55 245.9 L490.8 245.9 L491.05 245.9 L491.3 245.9 L491.55 245.9 L491.8 245.9 L492.05 245.9 L492.3 245.9 L492.55 245.9 L492.8 245.9 L493.05 245.9 L493.3 245.9 L493.55 245.9 L493.8 245.9 L494.05 245.9 L494.3 245.9 L494.55 245.9 L494.8 245.9 L495.05 245.9 L495.3 245.9 L495.55 245.9 L495.8 245.9 L496.05 245.9 L496.3 245.9 L496.55 245.9 L496.8 245.9 L497.05 245.9 L497.3 245.9 L497.55 245.9 L497.8 245.9 L498.05 245.9 L498.3 245.9 L498.55 245.9 L498.8 245.9 L499.05 245.9 L499.3 245.9 L499.55 245.9 L499.8 245.9 L500.05 245.9 L500.3 245.9 L500.55 245.9 L500.8 245.9 L501.05 245.9 L501.3 245.9 L501.55 245.9 L501.8 245.9 L502.05 245.9 L502.3 245.9 L502.55 245.9 L502.8 245.9 L503.05 245.9 L503.3 245.9 L503.55 245.9 L503.8 245.9 L504.05 245.9 L504.3 245.9 L504.55 245.9 L504.8 245.9 L505.05 245.9 L505.3 245.9 L505.55 245.9 L505.8 245.9 L506.05 245.9 L506.3 245.9 L506.55 245.9 L506.8 245.9 L507.05 245.9 L507.3 245.9 L507.55 245.9 L507.8 245.9 L508.05 245.9 L508.3 245.9 L508.55 245.9 L508.8 245.9 L509.05 245.9 L509.3 245.9 L509.55 245.9 L509.8 245.9 L510.05 245.9 L510.3 245.9 L510.55 245.9 L510.8 245.9 L511.05 245.9 L511.3 245.9 L511.55 245.9 L511.8 245.9 L512.05 245.9 L512.3 245.9 L512.55 245.9 L512.8 245.9 L513.05 245.9 L513.3 245.9 L513.55 245.9 L513.8 245.9 L514.05 245.9 L514.3 245.9 L514.55 245.9 L514.8 245.9 L515.05 245.9 L515.3 245.9 L515.55 245.9 L515.8 245.9 L516.05 245.9 L516.3 245.9 L516.55 245.9 L516.8 245.9 L517.05 245.9 L517.3 245.9 L517.55 245.9 L517.8 245.9 L518.05 245.9 L518.3 245.9 L518.55 245.9 L518.8 245.9 L519.05 245.9 L519.3 245.9 L519.55 245.9 L519.8 245.9 L520.05 245.9 L520.3 245.9 L520.55 245.9 L520.8 245.9 L521.05 245.9 L521.3 245.9 L521.55 245.9 L521.8 245.9 L522.05 245.9 L522.3 245.9 L522.55 245.9 L522.8 245.9 L523.05 245.9 L523.3 245.9 L523.55 245.9 L523.8 245.9 L524.05 245.9 L524.3 245.9 L524.55 245.9 L524.8 245.9 L525.05 245.9 L525.3 245.9 L525.55 245.9 L525.8 245.9 L526.05 245.9 L526.3 245.9 L526.55 245.9 L526.8 245.9 L527.05 245.9 L527.3 245.9 L527.55 245.9 L527.8 245.9 L528.05 245.9 L528.3 245.9 L528.55 245.9 L528.8 245.9 L529.05 245.9 L529.3 245.9 L529.55 245.9 L529.8 245.9 L530.05 245.9 L530.3 245.9 L530.55 245.9 L530.8 245.9 L531.05 245.9 L531.3 245.9 L531.55 245.9 L531.8 245.9 L532.05 245.9 L532.3 245.9 L532.55 245.9 L532.65 245.9" fill="none" stroke="#0000ff" stroke-width="1.45" stroke-dasharray="6 5" stroke-linejoin="round"/>
<path d="M315.5 266.98 L369.79 266.98 L369.79 276.2 L370.05 276.18 L370.31 276.11 L370.57 275.99 L370.83 275.83 L371.09 275.64 L371.35 275.41 L371.61 275.14 L371.86 274.86 L372.12 274.55 L372.38 274.23 L372.64 273.9 L372.9 273.57 L373.16 273.25 L373.42 272.94 L373.68 272.66 L373.94 272.39 L374.2 272.16 L374.46 271.97 L374.72 271.81 L374.98 271.69 L375.24 271.62 L375.5 271.6 L375.75 271.64 L376 271.74 L376.26 271.92 L376.51 272.16 L376.76 272.47 L377.01 272.83 L377.26 273.25 L377.52 273.71 L377.77 274.21 L378.02 274.74 L378.27 275.3 L378.52 275.86 L378.78 276.44 L379.03 277 L379.28 277.56 L379.53 278.09 L379.78 278.59 L380.04 279.05 L380.29 279.47 L380.54 279.83 L380.79 280.14 L381.04 280.38 L381.3 280.56 L381.55 280.66 L381.8 280.7 L382.06 280.68 L382.31 280.63 L382.57 280.54 L382.82 280.42 L383.08 280.27 L383.34 280.09 L383.59 279.88 L383.85 279.66 L384.1 279.41 L384.36 279.15 L384.62 278.87 L384.87 278.59 L385.13 278.31 L385.38 278.03 L385.64 277.75 L385.9 277.49 L386.15 277.24 L386.41 277.02 L386.66 276.81 L386.92 276.63 L387.18 276.48 L387.43 276.36 L387.69 276.27 L387.94 276.22 L388.2 276.2 L388.45 276.23 L388.7 276.31 L388.96 276.46 L389.21 276.65 L389.46 276.9 L389.71 277.19 L389.96 277.52 L390.22 277.89 L390.47 278.3 L390.72 278.72 L390.97 279.17 L391.22 279.62 L391.48 280.08 L391.73 280.53 L391.98 280.98 L392.23 281.4 L392.48 281.81 L392.74 282.18 L392.99 282.51 L393.24 282.8 L393.49 283.05 L393.74 283.24 L394 283.39 L394.25 283.47 L394.5 283.5 L394.76 283.48 L395.01 283.42 L395.27 283.32 L395.52 283.19 L395.78 283.02 L396.04 282.82 L396.29 282.59 L396.55 282.34 L396.8 282.06 L397.06 281.77 L397.32 281.47 L397.57 281.16 L397.83 280.84 L398.08 280.53 L398.34 280.23 L398.6 279.94 L398.85 279.66 L399.11 279.41 L399.36 279.18 L399.62 278.98 L399.88 278.81 L400.13 278.68 L400.39 278.58 L400.64 278.52 L400.9 278.5 L401.15 278.53 L401.4 278.61 L401.65 278.74 L401.9 278.93 L402.15 279.16 L402.4 279.44 L402.65 279.75 L402.9 280.1 L403.15 280.48 L403.4 280.87 L403.65 281.28 L403.9 281.7 L404.15 282.12 L404.4 282.53 L404.65 282.92 L404.9 283.3 L405.15 283.65 L405.4 283.96 L405.65 284.24 L405.9 284.47 L406.15 284.66 L406.4 284.79 L406.65 284.87 L406.9 284.9 L407.16 284.88 L407.42 284.83 L407.67 284.75 L407.93 284.64 L408.19 284.5 L408.45 284.33 L408.7 284.14 L408.96 283.93 L409.22 283.7 L409.48 283.45 L409.73 283.19 L409.99 282.92 L410.25 282.65 L410.51 282.38 L410.77 282.11 L411.02 281.85 L411.28 281.6 L411.54 281.37 L411.8 281.16 L412.05 280.97 L412.31 280.8 L412.57 280.66 L412.83 280.55 L413.08 280.47 L413.34 280.42 L413.6 280.4 L413.86 280.43 L414.11 280.5 L414.37 280.63 L414.62 280.81 L414.88 281.03 L415.14 281.29 L415.39 281.6 L415.65 281.93 L415.9 282.29 L416.16 282.68 L416.42 283.08 L416.67 283.49 L416.93 283.91 L417.18 284.32 L417.44 284.72 L417.7 285.11 L417.95 285.47 L418.21 285.65 L418.46 285.65 L418.72 285.65 L418.98 285.65 L419.23 285.65 L419.49 285.65 L419.74 285.65 L420 285.65 L420.26 285.65 L420.51 285.65 L420.77 285.65 L421.02 285.65 L421.28 285.65 L421.54 285.65 L421.79 285.65 L422.05 285.65 L422.3 285.36 L422.56 285.03 L422.82 284.68 L423.07 284.33 L423.33 283.97 L423.58 283.62 L423.84 283.27 L424.1 282.94 L424.35 282.62 L424.61 282.33 L424.86 282.07 L425.12 281.84 L425.38 281.65 L425.63 281.5 L425.89 281.39 L426.14 281.32 L426.4 281.3 L426.66 281.33 L426.91 281.43 L427.17 281.6 L427.43 281.82 L427.68 282.11 L427.94 282.44 L428.2 282.82 L428.45 283.24 L428.71 283.69 L428.97 284.17 L429.22 284.65 L429.48 285.15 L429.73 285.63 L429.99 285.65 L430.25 285.65 L430.5 285.65 L430.76 285.65 L431.02 285.65 L431.27 285.65 L431.53 285.65 L431.79 285.65 L432.04 285.65 L432.3 285.65 L432.56 285.65 L432.81 285.65 L433.07 285.65 L433.33 285.65 L433.58 285.65 L433.84 285.65 L434.1 285.65 L434.35 285.65 L434.61 285.65 L434.87 285.65 L435.12 285.56 L435.38 285.14 L435.63 284.71 L435.89 284.3 L436.15 283.9 L436.4 283.53 L436.66 283.2 L436.92 282.91 L437.17 282.66 L437.43 282.46 L437.69 282.32 L437.94 282.23 L438.2 282.2 L438.45 282.23 L438.7 282.31 L438.96 282.46 L439.21 282.65 L439.46 282.9 L439.71 283.19 L439.96 283.52 L440.22 283.89 L440.47 284.3 L440.72 284.72 L440.97 285.17 L441.22 285.62 L441.48 285.65 L441.73 285.65 L441.98 285.65 L442.23 285.65 L442.48 285.65 L442.74 285.65 L442.99 285.65 L443.24 285.65 L443.49 285.65 L443.74 285.65 L444 285.65 L444.25 285.65 L444.5 285.65 L444.76 285.65 L445.01 285.65 L445.27 285.65 L445.52 285.65 L445.78 285.65 L446.04 285.65 L446.29 285.65 L446.55 285.65 L446.8 285.65 L447.06 285.65 L447.32 285.65 L447.57 285.65 L447.83 285.65 L448.08 285.65 L448.34 285.57 L448.6 285.22 L448.85 284.89 L449.11 284.59 L449.36 284.31 L449.62 284.07 L449.88 283.87 L450.13 283.71 L450.39 283.59 L450.64 283.52 L450.9 283.5 L451.15 283.53 L451.41 283.63 L451.66 283.79 L451.92 284.02 L452.17 284.29 L452.43 284.62 L452.68 284.99 L452.94 285.4 L453.19 285.65 L453.45 285.65 L453.7 285.65 L453.95 285.65 L454.21 285.65 L454.46 285.65 L454.72 285.65 L454.97 285.65 L455.23 285.65 L455.48 285.65 L455.74 285.65 L455.99 285.65 L456.25 285.65 L456.5 285.65 L456.75 285.65 L457 285.65 L457.25 285.65 L457.5 285.65 L457.75 285.65 L458 285.65 L458.25 285.65 L458.5 285.65 L458.75 285.65 L459 285.65 L459.25 285.65 L459.5 285.65 L459.75 285.65 L460 285.65 L460.25 285.38 L460.5 285.04 L460.75 284.73 L461 284.48 L461.25 284.27 L461.5 284.12 L461.75 284.03 L462 284 L462.25 284.03 L462.5 284.1 L462.75 284.23 L463 284.4 L463.25 284.62 L463.5 284.88 L463.75 285.17 L464 285.5 L464.25 285.65 L464.5 285.65 L464.75 285.65 L465 285.65 L465.25 285.65 L465.5 285.65 L465.75 285.65 L466 285.65 L466.25 285.65 L466.5 285.65 L466.75 285.65 L467 285.65 L467.25 285.65 L467.5 285.65 L467.75 285.65 L468 285.65 L468.25 285.65 L468.5 285.65 L468.75 285.65 L469 285.65 L469.25 285.65 L469.5 285.65 L469.75 285.65 L470 285.65 L470.25 285.65 L470.5 285.65 L470.75 285.65 L471 285.65 L471.25 285.65 L471.5 285.65 L471.75 285.65 L472 285.65 L472.25 285.58 L472.5 285.31 L472.75 285.07 L473 284.87 L473.25 284.71 L473.5 284.59 L473.75 284.52 L474 284.5 L474.25 284.52 L474.5 284.59 L474.75 284.71 L475 284.87 L475.25 285.07 L475.5 285.31 L475.75 285.58 L476 285.65 L476.25 285.65 L476.5 285.65 L476.75 285.65 L477 285.65 L477.25 285.65 L477.5 285.65 L477.75 285.65 L478 285.65 L478.25 285.65 L478.5 285.65 L478.75 285.65 L479 285.65 L479.25 285.65 L479.5 285.65 L479.75 285.65 L480 285.65 L480.25 285.65 L480.5 285.65 L480.75 285.65 L481 285.65 L481.25 285.65 L481.5 285.65 L481.75 285.65 L482 285.65 L482.25 285.65 L482.5 285.65 L482.75 285.65 L483 285.65 L483.25 285.65 L483.5 285.65 L483.75 285.65 L484 285.65 L484.25 285.65 L484.5 285.56 L484.75 285.34 L485 285.15 L485.25 285 L485.5 284.89 L485.75 284.82 L486 284.8 L486.25 284.82 L486.5 284.89 L486.75 285 L487 285.15 L487.25 285.34 L487.5 285.56 L487.75 285.65 L488 285.65 L488.25 285.65 L488.5 285.65 L488.75 285.65 L489 285.65 L489.25 285.65 L489.5 285.65 L489.75 285.65 L490 285.65 L490.25 285.65 L490.5 285.65 L490.75 285.65 L491 285.65 L491.25 285.65 L491.5 285.65 L491.75 285.65 L492 285.65 L492.25 285.65 L492.5 285.65 L492.75 285.65 L493 285.65 L493.25 285.65 L493.5 285.65 L493.75 285.65 L494 285.65 L494.25 285.65 L494.5 285.65 L494.75 285.65 L495 285.65 L495.25 285.65 L495.5 285.65 L495.75 285.65 L496 285.65 L496.25 285.65 L496.5 285.65 L496.75 285.52 L497 285.33 L497.25 285.19 L497.5 285.09 L497.75 285.02 L498 285 L498.25 285.02 L498.5 285.09 L498.75 285.19 L499 285.33 L499.25 285.52 L499.5 285.65 L499.75 285.65 L500 285.65 L500.25 285.65 L500.5 285.65 L500.75 285.65 L501 285.65 L501.25 285.65 L501.5 285.65 L501.75 285.65 L502 285.65 L502.25 285.65 L502.5 285.65 L502.75 285.65 L503 285.65 L503.25 285.65 L503.5 285.65 L503.75 285.65 L504 285.65 L504.25 285.65 L504.5 285.65 L504.75 285.65 L505 285.65 L505.25 285.65 L505.5 285.65 L505.75 285.65 L506 285.65 L506.25 285.65 L506.5 285.65 L506.75 285.65 L507 285.65 L507.25 285.65 L507.5 285.65 L507.75 285.65 L508 285.65 L508.25 285.65 L508.5 285.65 L508.75 285.65 L509 285.52 L509.25 285.38 L509.5 285.28 L509.75 285.22 L510 285.2 L510.25 285.22 L510.5 285.28 L510.75 285.38 L511 285.52 L511.25 285.65 L511.5 285.65 L511.75 285.65 L512 285.65 L512.25 285.65 L512.5 285.65 L512.75 285.65 L513 285.65 L513.25 285.65 L513.5 285.65 L513.75 285.65 L514 285.65 L514.25 285.65 L514.5 285.65 L514.75 285.65 L515 285.65 L515.25 285.65 L515.5 285.65 L515.75 285.65 L516 285.65 L516.25 285.65 L516.5 285.65 L516.75 285.65 L517 285.65 L517.25 285.65 L517.5 285.65 L517.75 285.65 L518 285.65 L518.25 285.65 L518.5 285.65 L518.75 285.65 L519 285.65 L519.25 285.65 L519.5 285.65 L519.75 285.65 L520 285.65 L520.25 285.65 L520.5 285.65 L520.75 285.65 L521 285.61 L521.25 285.48 L521.5 285.38 L521.75 285.32 L522 285.3 L522.25 285.32 L522.5 285.38 L522.75 285.48 L523 285.61 L523.25 285.65 L523.5 285.65 L523.75 285.65 L524 285.65 L524.25 285.65 L524.5 285.65 L524.75 285.65 L525 285.65 L525.25 285.65 L525.5 285.65 L525.75 285.65 L526 285.65 L526.25 285.65 L526.5 285.65 L526.75 285.65 L527 285.65 L527.25 285.65 L527.5 285.65 L527.75 285.65 L528 285.65 L528.26 285.65 L528.52 285.65 L528.77 285.65 L529.03 285.65 L529.29 285.65 L529.55 285.65 L529.81 285.65 L530.07 285.65 L530.33 285.65 L530.58 285.65 L530.84 285.65 L531.1 285.65 L531.36 285.65 L531.62 285.65 L531.88 285.65 L532.13 285.65 L532.39 285.65 L532.65 285.65" fill="none" stroke="#ff1a1a" stroke-width="1.55" stroke-linejoin="round"/>
</g>
<path d="M446.9 256.1h5.6M458.6 256.1h5.6" stroke="#0000ff" stroke-width="1.5"/>
<line x1="446.9" y1="267.8" x2="465" y2="267.8" stroke="#ff1a1a" stroke-width="1.4"/>
<text transform="translate(467.7 258.2) scale(1 1.12)" font-size="8">C<tspan font-size="5.76" dy="2">ZCB</tspan><tspan dy="-2"> = 1.0 times</tspan></text>
<text transform="translate(467.7 269.9) scale(1 1.12)" font-size="8">C<tspan font-size="5.76" dy="2">ZCB</tspan><tspan dy="-2"> = 9.0 times</tspan></text>
<rect x="315.5" y="229.65" width="217.15" height="60.7" fill="none" stroke="#151515" stroke-width="1.5"/>
<path d="M315.5 285.65h3M532.65 285.65h-3" stroke="#151515" stroke-width="1"/>
<path d="M315.5 266.98h3M532.65 266.98h-3" stroke="#151515" stroke-width="1"/>
<path d="M315.5 248.32h3M532.65 248.32h-3" stroke="#151515" stroke-width="1"/>
<path d="M315.5 229.65h3M532.65 229.65h-3" stroke="#151515" stroke-width="1"/>
<path d="M315.5 276.31h2M532.65 276.31h-2" stroke="#151515" stroke-width="0.9"/>
<path d="M315.5 257.65h2M532.65 257.65h-2" stroke="#151515" stroke-width="0.9"/>
<path d="M315.5 238.98h2M532.65 238.98h-2" stroke="#151515" stroke-width="0.9"/>
<path d="M369.79 290.35v-3M369.79 229.65v3" stroke="#151515" stroke-width="1"/>
<path d="M424.07 290.35v-3M424.07 229.65v3" stroke="#151515" stroke-width="1"/>
<path d="M478.36 290.35v-3M478.36 229.65v3" stroke="#151515" stroke-width="1"/>
<text transform="translate(312.05 287.75) scale(1 1.12)" text-anchor="end" font-size="8">0</text>
<text transform="translate(312.05 269.08) scale(1 1.12)" text-anchor="end" font-size="8">1k</text>
<text transform="translate(312.05 250.42) scale(1 1.12)" text-anchor="end" font-size="8">2k</text>
<text transform="translate(312.05 231.75) scale(1 1.12)" text-anchor="end" font-size="8">3k</text>
<text transform="translate(315.5 299.6) scale(1 1.12)" text-anchor="middle" font-size="8">0.00</text>
<text transform="translate(369.79 299.6) scale(1 1.12)" text-anchor="middle" font-size="8">0.25</text>
<text transform="translate(424.07 299.6) scale(1 1.12)" text-anchor="middle" font-size="8">0.50</text>
<text transform="translate(478.36 299.6) scale(1 1.12)" text-anchor="middle" font-size="8">0.75</text>
<text transform="translate(532.65 299.6) scale(1 1.12)" text-anchor="middle" font-size="8">1.00</text>
<text x="424.07" y="309.35" text-anchor="middle" font-size="9.4">Time (ms)</text>
<text transform="translate(298.6 259.5) rotate(-90)" text-anchor="middle" font-size="9.8">I<tspan font-size="6.27" dy="2.2">D2</tspan><tspan dy="-2.2"> (V)</tspan></text>
<line x1="315.65" y1="322.47" x2="532.65" y2="322.47" stroke="#e2e2e2" stroke-width="0.8"/>
<line x1="315.65" y1="339.96" x2="532.65" y2="339.96" stroke="#e2e2e2" stroke-width="0.8"/>
<line x1="315.65" y1="357.45" x2="532.65" y2="357.45" stroke="#e2e2e2" stroke-width="0.8"/>
<line x1="315.65" y1="374.94" x2="532.65" y2="374.94" stroke="#e2e2e2" stroke-width="0.8"/>
<line x1="315.65" y1="331.21" x2="532.65" y2="331.21" stroke="#cdcdcd" stroke-width="0.8" stroke-dasharray="2 1.5"/>
<line x1="315.65" y1="348.7" x2="532.65" y2="348.7" stroke="#cdcdcd" stroke-width="0.8" stroke-dasharray="2 1.5"/>
<line x1="315.65" y1="366.19" x2="532.65" y2="366.19" stroke="#cdcdcd" stroke-width="0.8" stroke-dasharray="2 1.5"/>
<line x1="369.9" y1="319.45" x2="369.9" y2="379.75" stroke="#cdcdcd" stroke-width="0.8" stroke-dasharray="2 1.5"/>
<line x1="424.15" y1="319.45" x2="424.15" y2="379.75" stroke="#cdcdcd" stroke-width="0.8" stroke-dasharray="2 1.5"/>
<line x1="478.4" y1="319.45" x2="478.4" y2="379.75" stroke="#cdcdcd" stroke-width="0.8" stroke-dasharray="2 1.5"/>
<g>
<path d="M369.9 330.4 L532.65 330.4" fill="none" stroke="#0000ff" stroke-width="1.45" stroke-dasharray="6 5" stroke-linejoin="round"/>
<path d="M315.65 331.21 L315.85 331.21 L316.05 331.21 L316.25 331.21 L316.45 331.21 L316.65 331.21 L316.85 331.21 L317.05 331.21 L317.25 331.21 L317.45 331.21 L317.65 331.21 L317.85 331.21 L318.05 331.21 L318.25 331.21 L318.45 331.21 L318.65 331.21 L318.85 331.21 L319.05 331.21 L319.25 331.21 L319.45 331.21 L319.65 331.21 L319.85 331.21 L320.05 331.21 L320.25 331.21 L320.45 331.21 L320.65 331.21 L320.85 331.21 L321.05 331.21 L321.25 331.21 L321.45 331.21 L321.65 331.21 L321.85 331.21 L322.05 331.21 L322.25 331.21 L322.45 331.21 L322.65 331.21 L322.85 331.21 L323.05 331.21 L323.25 331.21 L323.45 331.21 L323.65 331.21 L323.85 331.21 L324.05 331.21 L324.25 331.21 L324.45 331.21 L324.65 331.21 L324.85 331.21 L325.05 331.21 L325.25 331.21 L325.45 331.21 L325.65 331.21 L325.85 331.21 L326.05 331.21 L326.25 331.21 L326.45 331.21 L326.65 331.21 L326.85 331.21 L327.05 331.21 L327.25 331.21 L327.45 331.21 L327.65 331.21 L327.85 331.21 L328.05 331.21 L328.25 331.21 L328.45 331.21 L328.65 331.21 L328.85 331.21 L329.05 331.21 L329.25 331.21 L329.45 331.21 L329.65 331.21 L329.85 331.21 L330.05 331.21 L330.25 331.21 L330.45 331.21 L330.65 331.21 L330.85 331.21 L331.05 331.21 L331.25 331.21 L331.45 331.21 L331.65 331.21 L331.85 331.21 L332.05 331.21 L332.25 331.21 L332.45 331.21 L332.65 331.21 L332.85 331.21 L333.05 331.21 L333.25 331.21 L333.45 331.21 L333.65 331.21 L333.85 331.21 L334.05 331.21 L334.25 331.21 L334.45 331.21 L334.65 331.21 L334.85 331.21 L335.05 331.21 L335.25 331.21 L335.45 331.21 L335.65 331.21 L335.85 331.21 L336.05 331.21 L336.25 331.21 L336.45 331.21 L336.65 331.21 L336.85 331.21 L337.05 331.21 L337.25 331.21 L337.45 331.21 L337.65 331.21 L337.85 331.21 L338.05 331.21 L338.25 331.21 L338.45 331.21 L338.65 331.21 L338.85 331.21 L339.05 331.21 L339.25 331.21 L339.45 331.21 L339.65 331.21 L339.85 331.21 L340.05 331.21 L340.25 331.21 L340.45 331.21 L340.65 331.21 L340.85 331.21 L341.05 331.21 L341.25 331.21 L341.45 331.21 L341.65 331.21 L341.85 331.21 L342.05 331.21 L342.25 331.21 L342.45 331.21 L342.65 331.21 L342.85 331.21 L343.05 331.21 L343.25 331.21 L343.45 331.21 L343.65 331.21 L343.85 331.21 L344.05 331.21 L344.25 331.21 L344.45 331.21 L344.65 331.21 L344.85 331.21 L345.05 331.21 L345.25 331.21 L345.45 331.21 L345.65 331.21 L345.85 331.21 L346.05 331.21 L346.25 331.21 L346.45 331.21 L346.65 331.21 L346.85 331.21 L347.05 331.21 L347.25 331.21 L347.45 331.21 L347.65 331.21 L347.85 331.21 L348.05 331.21 L348.25 331.21 L348.45 331.21 L348.65 331.21 L348.85 331.21 L349.05 331.21 L349.25 331.21 L349.45 331.21 L349.65 331.21 L349.85 331.21 L350.05 331.21 L350.25 331.21 L350.45 331.21 L350.65 331.21 L350.85 331.21 L351.05 331.21 L351.25 331.21 L351.45 331.21 L351.65 331.21 L351.85 331.21 L352.05 331.21 L352.25 331.21 L352.45 331.21 L352.65 331.21 L352.85 331.21 L353.05 331.21 L353.25 331.21 L353.45 331.21 L353.65 331.21 L353.85 331.21 L354.05 331.21 L354.25 331.21 L354.45 331.21 L354.65 331.21 L354.85 331.21 L355.05 331.21 L355.25 331.21 L355.45 331.21 L355.65 331.21 L355.85 331.21 L356.05 331.21 L356.25 331.21 L356.45 331.21 L356.65 331.21 L356.85 331.21 L357.05 331.21 L357.25 331.21 L357.45 331.21 L357.65 331.21 L357.85 331.21 L358.05 331.21 L358.25 331.21 L358.45 331.21 L358.65 331.21 L358.85 331.21 L359.05 331.21 L359.25 331.21 L359.45 331.21 L359.65 331.21 L359.85 331.21 L360.05 331.21 L360.25 331.21 L360.45 331.21 L360.65 331.21 L360.85 331.21 L361.05 331.21 L361.25 331.21 L361.45 331.21 L361.65 331.21 L361.85 331.21 L362.05 331.21 L362.25 331.21 L362.45 331.21 L362.65 331.21 L362.85 331.21 L363.05 331.21 L363.25 331.21 L363.45 331.21 L363.65 331.21 L363.85 331.21 L364.05 331.21 L364.25 331.21 L364.45 331.21 L364.65 331.21 L364.85 331.21 L365.05 331.21 L365.25 331.21 L365.45 331.21 L365.65 331.21 L365.85 331.21 L366.05 331.21 L366.25 331.21 L366.45 331.21 L366.65 331.21 L366.85 331.21 L367.05 331.21 L367.25 331.21 L367.45 331.21 L367.65 331.21 L367.85 331.21 L368.05 331.21 L368.25 331.21 L368.45 331.21 L368.65 331.21 L368.85 331.21 L369.05 331.21 L369.25 331.21 L369.45 331.21 L369.65 331.21 L369.85 331.21 L370.05 331.21 L370.25 331.21 L370.45 331.21 L370.65 331.21 L370.85 331.21 L371.05 331.21 L371.25 331.21 L371.45 331.21 L371.65 331.21 L371.85 331.21 L372.05 331.21 L372.25 331.21 L372.45 331.21 L372.65 331.21 L372.85 331.21 L373.05 331.21 L373.25 331.21 L373.45 331.21 L373.65 331.21 L373.85 331.21 L374.05 331.21 L374.25 331.21 L374.45 331.21 L374.65 331.21 L374.85 331.21 L375.05 331.21 L375.25 331.21 L375.45 331.21 L375.65 331.21 L375.85 331.21 L376.05 331.21 L376.25 331.21 L376.45 331.21 L376.65 331.21 L376.85 331.21 L377.05 331.21 L377.25 331.21 L377.45 331.21 L377.65 331.21 L377.85 331.21 L378.05 331.21 L378.25 331.21 L378.45 331.21 L378.65 331.21 L378.85 331.21 L379.05 331.21 L379.25 331.21 L379.45 331.21 L379.65 331.21 L379.85 331.21 L380.05 331.21 L380.25 331.21 L380.45 331.21 L380.65 331.21 L380.85 331.21 L381.05 331.21 L381.25 331.21 L381.45 331.21 L381.65 331.21 L381.85 331.21 L382.05 331.21 L382.25 331.21 L382.45 331.21 L382.65 331.21 L382.85 331.21 L383.05 331.21 L383.25 331.21 L383.45 331.21 L383.65 331.21 L383.85 331.21 L384.05 331.21 L384.25 331.21 L384.45 331.21 L384.65 331.21 L384.85 331.21 L385.05 331.21 L385.25 331.21 L385.45 331.21 L385.65 331.21 L385.85 331.21 L386.05 331.21 L386.25 331.21 L386.45 331.21 L386.65 331.21 L386.85 331.21 L387.05 331.21 L387.25 331.21 L387.45 331.21 L387.65 331.21 L387.85 331.21 L388.05 331.21 L388.25 331.21 L388.45 331.21 L388.65 331.21 L388.85 331.21 L389.05 331.21 L389.25 331.21 L389.45 331.21 L389.65 331.21 L389.85 331.21 L390.05 331.21 L390.25 331.21 L390.45 331.21 L390.65 331.21 L390.85 331.21 L391.05 331.21 L391.25 331.21 L391.45 331.21 L391.65 331.21 L391.85 331.21 L392.05 331.21 L392.25 331.21 L392.45 331.21 L392.65 331.21 L392.85 331.21 L393.05 331.21 L393.25 331.21 L393.45 331.21 L393.65 331.21 L393.85 331.21 L394.05 331.21 L394.25 331.21 L394.45 331.21 L394.65 331.21 L394.85 331.21 L395.05 331.21 L395.25 331.21 L395.45 331.21 L395.65 331.21 L395.85 331.21 L396.05 331.21 L396.25 331.21 L396.45 331.21 L396.65 331.21 L396.85 331.21 L397.05 331.21 L397.25 331.21 L397.45 331.21 L397.65 331.21 L397.85 331.21 L398.05 331.21 L398.25 331.21 L398.45 331.21 L398.65 331.21 L398.85 331.21 L399.05 331.21 L399.25 331.21 L399.45 331.21 L399.65 331.21 L399.85 331.21 L400.05 331.21 L400.25 331.21 L400.45 331.21 L400.65 331.21 L400.85 331.21 L401.05 331.21 L401.25 331.21 L401.45 331.21 L401.65 331.21 L401.85 331.21 L402.05 331.21 L402.25 331.21 L402.45 331.21 L402.65 331.21 L402.85 331.21 L403.05 331.21 L403.25 331.21 L403.45 331.21 L403.65 331.21 L403.85 331.21 L404.05 331.21 L404.25 331.21 L404.45 331.21 L404.65 331.21 L404.85 331.21 L405.05 331.21 L405.25 331.21 L405.45 331.21 L405.65 331.21 L405.85 331.21 L406.05 331.21 L406.25 331.21 L406.45 331.21 L406.65 331.21 L406.85 331.21 L407.05 331.21 L407.25 331.21 L407.45 331.21 L407.65 331.21 L407.85 331.21 L408.05 331.21 L408.25 331.21 L408.45 331.21 L408.65 331.21 L408.85 331.21 L409.05 331.21 L409.25 331.21 L409.45 331.21 L409.65 331.21 L409.85 331.21 L410.05 331.21 L410.25 331.21 L410.45 331.21 L410.65 331.21 L410.85 331.21 L411.05 331.21 L411.25 331.21 L411.45 331.21 L411.65 331.21 L411.85 331.21 L412.05 331.21 L412.25 331.21 L412.45 331.21 L412.65 331.21 L412.85 331.21 L413.05 331.21 L413.25 331.21 L413.45 331.21 L413.65 331.21 L413.85 331.21 L414.05 331.21 L414.25 331.21 L414.45 331.21 L414.65 331.21 L414.85 331.21 L415.05 331.21 L415.25 331.21 L415.45 331.21 L415.65 331.21 L415.85 331.21 L416.05 331.21 L416.25 331.21 L416.45 331.21 L416.65 331.21 L416.85 331.21 L417.05 331.21 L417.25 331.21 L417.45 331.21 L417.65 331.21 L417.85 331.22 L418.05 331.48 L418.25 332.08 L418.45 333 L418.65 334.22 L418.85 335.7 L419.05 337.41 L419.25 339.29 L419.45 341.3 L419.65 343.38 L419.85 345.48 L420.05 347.53 L420.25 349.48 L420.45 351.28 L420.65 352.88 L420.85 354.24 L421.05 355.31 L421.25 356.07 L421.45 356.5 L421.65 356.59 L421.85 356.33 L422.05 355.73 L422.25 354.81 L422.45 353.59 L422.65 352.11 L422.85 350.4 L423.05 348.52 L423.25 346.51 L423.45 344.43 L423.65 342.34 L423.85 340.28 L424.05 338.33 L424.25 336.53 L424.45 334.93 L424.65 333.58 L424.85 332.5 L425.05 331.74 L425.25 331.31 L425.45 331.21 L425.65 331.21 L425.85 331.21 L426.05 331.21 L426.25 331.21 L426.45 331.21 L426.65 331.21 L426.85 331.21 L427.05 331.21 L427.25 331.21 L427.45 331.21 L427.65 331.21 L427.85 331.21 L428.05 331.21 L428.25 331.21 L428.45 331.21 L428.65 331.21 L428.85 331.21 L429.05 331.21 L429.25 331.21 L429.45 331.21 L429.65 331.21 L429.85 331.21 L430.05 331.21 L430.25 331.21 L430.45 331.23 L430.65 331.64 L430.85 332.59 L431.05 334.05 L431.25 335.99 L431.45 338.34 L431.65 341.05 L431.85 344.03 L432.05 347.22 L432.25 350.52 L432.45 353.85 L432.65 357.1 L432.85 360.2 L433.05 363.06 L433.25 365.6 L433.45 367.75 L433.65 369.45 L433.85 370.66 L434.05 371.35 L434.25 371.48 L434.45 371.07 L434.65 370.12 L434.85 368.66 L435.05 366.73 L435.25 364.38 L435.45 361.67 L435.65 358.68 L435.85 355.49 L436.05 352.19 L436.25 348.86 L436.45 345.61 L436.65 342.51 L436.85 339.65 L437.05 337.11 L437.25 334.96 L437.45 333.26 L437.65 332.05 L437.85 331.37 L438.05 331.21 L438.25 331.21 L438.45 331.21 L438.65 331.21 L438.85 331.21 L439.05 331.21 L439.25 331.21 L439.45 331.21 L439.65 331.21 L439.85 331.21 L440.05 331.21 L440.25 331.21 L440.45 331.21 L440.65 331.21 L440.85 331.21 L441.05 331.21 L441.25 331.21 L441.45 331.21 L441.65 331.21 L441.85 331.21 L442.05 331.21 L442.25 331.21 L442.45 331.21 L442.65 331.21 L442.85 331.21 L443.05 331.23 L443.25 331.65 L443.45 332.62 L443.65 334.11 L443.85 336.08 L444.05 338.48 L444.25 341.24 L444.45 344.29 L444.65 347.54 L444.85 350.91 L445.05 354.3 L445.25 357.62 L445.45 360.78 L445.65 363.69 L445.85 366.28 L446.05 368.48 L446.25 370.21 L446.45 371.45 L446.65 372.14 L446.85 372.28 L447.05 371.86 L447.25 370.89 L447.45 369.4 L447.65 367.43 L447.85 365.03 L448.05 362.27 L448.25 359.22 L448.45 355.97 L448.65 352.61 L448.85 349.22 L449.05 345.89 L449.25 342.73 L449.45 339.82 L449.65 337.23 L449.85 335.04 L450.05 333.3 L450.25 332.07 L450.45 331.37 L450.65 331.21 L450.85 331.21 L451.05 331.21 L451.25 331.21 L451.45 331.21 L451.65 331.21 L451.85 331.21 L452.05 331.21 L452.25 331.21 L452.45 331.21 L452.65 331.21 L452.85 331.21 L453.05 331.21 L453.25 331.21 L453.45 331.21 L453.65 331.21 L453.85 331.21 L454.05 331.21 L454.25 331.21 L454.45 331.21 L454.65 331.23 L454.85 331.61 L455.05 332.51 L455.25 333.88 L455.45 335.69 L455.65 337.9 L455.85 340.43 L456.05 343.24 L456.25 346.23 L456.45 349.33 L456.65 352.44 L456.85 355.5 L457.05 358.4 L457.25 361.09 L457.45 363.47 L457.65 365.48 L457.85 367.08 L458.05 368.21 L458.25 368.85 L458.45 368.98 L458.65 368.6 L458.85 367.71 L459.05 366.34 L459.25 364.52 L459.45 362.32 L459.65 359.78 L459.85 356.97 L460.05 353.98 L460.25 350.89 L460.45 347.77 L460.65 344.72 L460.85 341.81 L461.05 339.13 L461.25 336.75 L461.45 334.73 L461.65 333.13 L461.85 332 L462.05 331.36 L462.25 331.21 L462.45 331.21 L462.65 331.21 L462.85 331.21 L463.05 331.21 L463.25 331.21 L463.45 331.21 L463.65 331.21 L463.85 331.21 L464.05 331.21 L464.25 331.21 L464.45 331.21 L464.65 331.21 L464.85 331.21 L465.05 331.21 L465.25 331.21 L465.45 331.21 L465.65 331.21 L465.85 331.21 L466.05 331.21 L466.25 331.23 L466.45 331.56 L466.65 332.34 L466.85 333.54 L467.05 335.12 L467.25 337.05 L467.45 339.26 L467.65 341.71 L467.85 344.32 L468.05 347.02 L468.25 349.75 L468.45 352.41 L468.65 354.95 L468.85 357.29 L469.05 359.37 L469.25 361.13 L469.45 362.52 L469.65 363.51 L469.85 364.07 L470.05 364.19 L470.25 363.85 L470.45 363.07 L470.65 361.88 L470.85 360.29 L471.05 358.37 L471.25 356.15 L471.45 353.7 L471.65 351.09 L471.85 348.39 L472.05 345.67 L472.25 343 L472.45 340.46 L472.65 338.12 L472.85 336.04 L473.05 334.28 L473.25 332.89 L473.45 331.9 L473.65 331.34 L473.85 331.21 L474.05 331.21 L474.25 331.21 L474.45 331.21 L474.65 331.21 L474.85 331.21 L475.05 331.21 L475.25 331.21 L475.45 331.21 L475.65 331.21 L475.85 331.21 L476.05 331.21 L476.25 331.21 L476.45 331.21 L476.65 331.21 L476.85 331.21 L477.05 331.21 L477.25 331.21 L477.45 331.21 L477.65 331.21 L477.85 331.23 L478.05 331.52 L478.25 332.21 L478.45 333.28 L478.65 334.68 L478.85 336.39 L479.05 338.36 L479.25 340.53 L479.45 342.85 L479.65 345.25 L479.85 347.67 L480.05 350.03 L480.25 352.29 L480.45 354.37 L480.65 356.21 L480.85 357.77 L481.05 359.01 L481.25 359.89 L481.45 360.39 L481.65 360.49 L481.85 360.19 L482.05 359.5 L482.25 358.44 L482.45 357.03 L482.65 355.32 L482.85 353.35 L483.05 351.18 L483.25 348.86 L483.45 346.46 L483.65 344.05 L483.85 341.68 L484.05 339.42 L484.25 337.35 L484.45 335.5 L484.65 333.94 L484.85 332.7 L485.05 331.82 L485.25 331.33 L485.45 331.21 L485.65 331.21 L485.85 331.21 L486.05 331.21 L486.25 331.21 L486.45 331.21 L486.65 331.21 L486.85 331.21 L487.05 331.21 L487.25 331.21 L487.45 331.21 L487.65 331.21 L487.85 331.21 L488.05 331.21 L488.25 331.21 L488.45 331.21 L488.65 331.21 L488.85 331.21 L489.05 331.21 L489.25 331.21 L489.45 331.31 L489.65 331.75 L489.85 332.54 L490.05 333.64 L490.25 335.03 L490.45 336.68 L490.65 338.53 L490.85 340.53 L491.05 342.64 L491.25 344.8 L491.45 346.93 L491.65 349 L491.85 350.93 L492.05 352.69 L492.25 354.21 L492.45 355.46 L492.65 356.41 L492.85 357.02 L493.05 357.29 L493.25 357.2 L493.45 356.76 L493.65 355.97 L493.85 354.87 L494.05 353.48 L494.25 351.84 L494.45 349.99 L494.65 347.98 L494.85 345.87 L495.05 343.72 L495.25 341.58 L495.45 339.51 L495.65 337.58 L495.85 335.83 L496.05 334.3 L496.25 333.05 L496.45 332.1 L496.65 331.49 L496.85 331.22 L497.05 331.21 L497.25 331.21 L497.45 331.21 L497.65 331.21 L497.85 331.21 L498.05 331.21 L498.25 331.21 L498.45 331.21 L498.65 331.21 L498.85 331.21 L499.05 331.21 L499.25 331.21 L499.45 331.21 L499.65 331.21 L499.85 331.21 L500.05 331.21 L500.25 331.3 L500.45 331.7 L500.65 332.4 L500.85 333.38 L501.05 334.62 L501.25 336.09 L501.45 337.74 L501.65 339.53 L501.85 341.42 L502.05 343.34 L502.25 345.25 L502.45 347.09 L502.65 348.82 L502.85 350.38 L503.05 351.74 L503.25 352.86 L503.45 353.7 L503.65 354.25 L503.85 354.49 L504.05 354.41 L504.25 354.02 L504.45 353.32 L504.65 352.33 L504.85 351.09 L505.05 349.62 L505.25 347.97 L505.45 346.18 L505.65 344.3 L505.85 342.38 L506.05 340.47 L506.25 338.62 L506.45 336.9 L506.65 335.33 L506.85 333.97 L507.05 332.85 L507.25 332.01 L507.45 331.46 L507.65 331.22 L507.85 331.21 L508.05 331.21 L508.25 331.21 L508.45 331.21 L508.65 331.21 L508.85 331.21 L509.05 331.21 L509.25 331.21 L509.45 331.21 L509.65 331.21 L509.85 331.21 L510.05 331.21 L510.25 331.21 L510.45 331.21 L510.65 331.21 L510.85 331.21 L511.05 331.21 L511.25 331.21 L511.45 331.22 L511.65 331.45 L511.85 331.96 L512.05 332.76 L512.25 333.82 L512.45 335.1 L512.65 336.58 L512.85 338.21 L513.05 339.95 L513.25 341.75 L513.45 343.57 L513.65 345.34 L513.85 347.03 L514.05 348.59 L514.25 349.98 L514.45 351.15 L514.65 352.08 L514.85 352.74 L515.05 353.12 L515.25 353.19 L515.45 352.97 L515.65 352.45 L515.85 351.65 L516.05 350.6 L516.25 349.31 L516.45 347.83 L516.65 346.2 L516.85 344.46 L517.05 342.66 L517.25 340.85 L517.45 339.07 L517.65 337.38 L517.85 335.82 L518.05 334.43 L518.25 333.26 L518.45 332.33 L518.65 331.67 L518.85 331.3 L519.05 331.21 L519.25 331.21 L519.45 331.21 L519.65 331.21 L519.85 331.21 L520.05 331.21 L520.25 331.21 L520.45 331.21 L520.65 331.21 L520.85 331.21 L521.05 331.21 L521.25 331.21 L521.45 331.21 L521.65 331.21 L521.85 331.21 L522.05 331.21 L522.25 331.21 L522.45 331.21 L522.65 331.21 L522.85 331.29 L523.05 331.65 L523.25 332.27 L523.45 333.16 L523.65 334.27 L523.85 335.59 L524.05 337.07 L524.25 338.68 L524.45 340.36 L524.65 342.09 L524.85 343.8 L525.05 345.45 L525.25 347 L525.45 348.41 L525.65 349.63 L525.85 350.63 L526.05 351.39 L526.25 351.88 L526.45 352.09 L526.65 352.02 L526.85 351.67 L527.05 351.04 L527.25 350.16 L527.45 349.04 L527.65 347.72 L527.85 346.24 L528.05 344.64 L528.25 342.95 L528.45 341.22 L528.65 339.51 L528.85 337.86 L529.05 336.31 L529.25 334.91 L529.45 333.69 L529.65 332.68 L529.85 331.93 L530.05 331.43 L530.25 331.22 L530.45 331.21 L530.65 331.21 L530.85 331.21 L531.05 331.21 L531.25 331.21 L531.45 331.21 L531.65 331.21 L531.85 331.21 L532.05 331.21 L532.25 331.21 L532.45 331.21 L532.65 331.21" fill="none" stroke="#ff1a1a" stroke-width="1.55" stroke-linejoin="round"/>
</g>
<path d="M322.7 348h5.6M334.4 348h5.6" stroke="#0000ff" stroke-width="1.5"/>
<line x1="322.7" y1="359.5" x2="340.8" y2="359.5" stroke="#ff1a1a" stroke-width="1.4"/>
<text transform="translate(344.5 350.1) scale(1 1.12)" font-size="8">C<tspan font-size="5.76" dy="2">ZCB</tspan><tspan dy="-2"> = 1.0 times</tspan></text>
<text transform="translate(344.5 361.6) scale(1 1.12)" font-size="8">C<tspan font-size="5.76" dy="2">ZCB</tspan><tspan dy="-2"> = 9.0 times</tspan></text>
<rect x="315.65" y="319.45" width="217" height="60.3" fill="none" stroke="#151515" stroke-width="1.5"/>
<path d="M315.65 331.21h3M532.65 331.21h-3" stroke="#151515" stroke-width="1"/>
<path d="M315.65 348.7h3M532.65 348.7h-3" stroke="#151515" stroke-width="1"/>
<path d="M315.65 366.19h3M532.65 366.19h-3" stroke="#151515" stroke-width="1"/>
<path d="M315.65 322.47h2M532.65 322.47h-2" stroke="#151515" stroke-width="0.9"/>
<path d="M315.65 339.96h2M532.65 339.96h-2" stroke="#151515" stroke-width="0.9"/>
<path d="M315.65 357.45h2M532.65 357.45h-2" stroke="#151515" stroke-width="0.9"/>
<path d="M315.65 374.94h2M532.65 374.94h-2" stroke="#151515" stroke-width="0.9"/>
<path d="M369.9 379.75v-3M369.9 319.45v3" stroke="#151515" stroke-width="1"/>
<path d="M424.15 379.75v-3M424.15 319.45v3" stroke="#151515" stroke-width="1"/>
<path d="M478.4 379.75v-3M478.4 319.45v3" stroke="#151515" stroke-width="1"/>
<text transform="translate(312.2 333.31) scale(1 1.12)" text-anchor="end" font-size="8">0</text>
<text transform="translate(312.2 350.8) scale(1 1.12)" text-anchor="end" font-size="8">-40</text>
<text transform="translate(312.2 368.29) scale(1 1.12)" text-anchor="end" font-size="8">-80</text>
<text transform="translate(315.65 389.7) scale(1 1.12)" text-anchor="middle" font-size="8">0.00</text>
<text transform="translate(369.9 389.7) scale(1 1.12)" text-anchor="middle" font-size="8">0.25</text>
<text transform="translate(424.15 389.7) scale(1 1.12)" text-anchor="middle" font-size="8">0.50</text>
<text transform="translate(478.4 389.7) scale(1 1.12)" text-anchor="middle" font-size="8">0.75</text>
<text transform="translate(532.65 389.7) scale(1 1.12)" text-anchor="middle" font-size="8">1.00</text>
<text x="424.15" y="398.75" text-anchor="middle" font-size="9.4">Time (ms)</text>
<text transform="translate(296.3 349.1) rotate(-90)" text-anchor="middle" font-size="9.8">V<tspan font-size="6.27" dy="2.2">D2</tspan><tspan dy="-2.2"> (V)</tspan></text>
<text x="140" y="208.7" text-anchor="middle" font-family='"Liberation Serif", "Times New Roman", serif' font-size="12.6" fill="#111">(<tspan font-weight="bold" font-size="13.2" dy="1.2">a</tspan><tspan dy="-1.2">)</tspan></text>
<text x="414.5" y="208.7" text-anchor="middle" font-family='"Liberation Serif", "Times New Roman", serif' font-size="12.6" fill="#111">(<tspan font-weight="bold" font-size="13.2" dy="1.2">b</tspan><tspan dy="-1.2">)</tspan></text>
<text x="139.8" y="421.9" text-anchor="middle" font-family='"Liberation Serif", "Times New Roman", serif' font-size="12.6" fill="#111">(<tspan font-weight="bold" font-size="13.2" dy="1.2">c</tspan><tspan dy="-1.2">)</tspan></text>
<text x="414.5" y="421.9" text-anchor="middle" font-family='"Liberation Serif", "Times New Roman", serif' font-size="12.6" fill="#111">(<tspan font-weight="bold" font-size="13.2" dy="1.2">d</tspan><tspan dy="-1.2">)</tspan></text>
</svg>
</body></html>
